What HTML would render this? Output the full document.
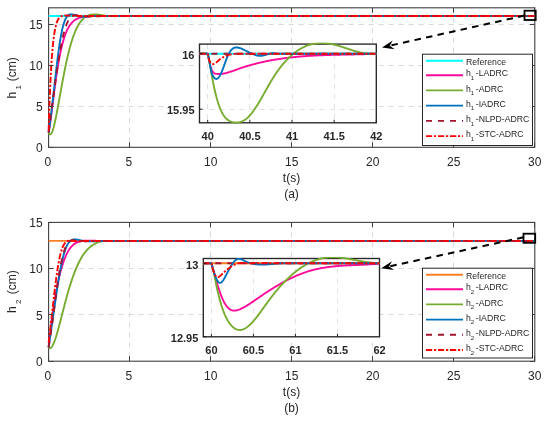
<!DOCTYPE html>
<html><head><meta charset="utf-8"><style>
html,body{margin:0;padding:0;background:#fff;}
svg{display:block;}
text{font-family:"Liberation Sans",Arial,sans-serif;fill:#262626;}
</style></head><body>
<svg width="550" height="422" viewBox="0 0 550 422">
<rect width="550" height="422" fill="#fff"/>
<line x1="129.5" y1="7.8" x2="129.5" y2="147.3" stroke="#d9d9d9" stroke-width="1" stroke-dasharray="5 5" />
<line x1="210.5" y1="7.8" x2="210.5" y2="147.3" stroke="#d9d9d9" stroke-width="1" stroke-dasharray="5 5" />
<line x1="291.5" y1="7.8" x2="291.5" y2="147.3" stroke="#d9d9d9" stroke-width="1" stroke-dasharray="5 5" />
<line x1="372.5" y1="7.8" x2="372.5" y2="147.3" stroke="#d9d9d9" stroke-width="1" stroke-dasharray="5 5" />
<line x1="453.5" y1="7.8" x2="453.5" y2="147.3" stroke="#d9d9d9" stroke-width="1" stroke-dasharray="5 5" />
<line x1="48.6" y1="106.5" x2="534.8" y2="106.5" stroke="#d9d9d9" stroke-width="1" stroke-dasharray="5 5" />
<line x1="48.6" y1="65.5" x2="534.8" y2="65.5" stroke="#d9d9d9" stroke-width="1" stroke-dasharray="5 5" />
<line x1="48.6" y1="24.5" x2="534.8" y2="24.5" stroke="#d9d9d9" stroke-width="1" stroke-dasharray="5 5" />
<rect x="48.6" y="7.8" width="486.19999999999993" height="139.5" fill="none" stroke="#404040" stroke-width="1.1"/>
<clipPath id="c1"><rect x="47.1" y="6.3" width="489.19999999999993" height="142.5"/></clipPath>
<path d="M48.60,16.01 L534.80,16.01" fill="none" stroke="#00ffff" stroke-width="1.9" stroke-linejoin="round" clip-path="url(#c1)"/>
<path d="M48.60,132.53 L48.76,131.70 L48.93,130.83 L49.09,129.91 L49.25,128.96 L49.42,127.97 L49.58,126.94 L49.74,125.88 L49.91,124.80 L50.07,123.68 L50.23,122.54 L50.39,121.38 L50.56,120.20 L50.72,119.00 L50.88,117.79 L51.05,116.56 L51.21,115.31 L51.37,114.06 L51.54,112.80 L51.70,111.52 L51.86,110.24 L52.03,108.96 L52.19,107.67 L52.35,106.38 L52.52,105.08 L52.68,103.79 L52.84,102.50 L53.01,101.20 L53.17,99.91 L53.33,98.62 L53.49,97.34 L53.66,96.06 L53.82,94.79 L53.98,93.52 L54.15,92.26 L54.31,91.01 L54.47,89.76 L54.64,88.53 L54.80,87.30 L54.96,86.08 L55.13,84.87 L55.29,83.67 L55.45,82.49 L55.62,81.31 L55.78,80.15 L55.94,78.99 L56.11,77.85 L56.27,76.72 L56.43,75.61 L56.59,74.50 L56.76,73.41 L56.92,72.33 L57.08,71.27 L57.25,70.22 L57.41,69.18 L57.57,68.16 L57.74,67.15 L57.90,66.15 L58.06,65.17 L58.23,64.20 L58.39,63.24 L58.55,62.30 L58.72,61.37 L58.88,60.46 L59.04,59.56 L59.21,58.67 L59.37,57.80 L59.53,56.94 L59.69,56.09 L59.86,55.26 L60.02,54.44 L60.18,53.63 L60.35,52.84 L60.51,52.06 L60.67,51.30 L60.84,50.54 L61.00,49.80 L61.16,49.08 L61.33,48.36 L61.49,47.66 L61.65,46.97 L61.82,46.29 L61.98,45.63 L62.14,44.98 L62.30,44.34 L62.47,43.71 L62.63,43.09 L62.79,42.48 L62.96,41.89 L63.12,41.31 L63.28,40.73 L63.45,40.17 L63.61,39.62 L63.77,39.08 L63.94,38.56 L64.10,38.04 L64.26,37.53 L64.43,37.03 L64.59,36.54 L64.75,36.07 L64.92,35.60 L65.08,35.14 L65.24,34.69 L65.40,34.25 L65.57,33.82 L65.73,33.39 L65.89,32.98 L66.06,32.58 L66.22,32.18 L66.38,31.79 L66.55,31.41 L66.71,31.04 L66.87,30.68 L67.04,30.32 L67.20,29.97 L67.36,29.63 L67.53,29.30 L67.69,28.97 L67.85,28.65 L68.02,28.34 L68.18,28.04 L68.34,27.74 L68.50,27.45 L68.67,27.16 L68.83,26.88 L68.99,26.61 L69.16,26.34 L69.32,26.08 L69.48,25.83 L69.65,25.58 L69.81,25.34 L69.97,25.10 L70.14,24.87 L70.30,24.64 L70.46,24.42 L70.63,24.21 L70.79,24.00 L70.95,23.79 L71.12,23.59 L71.28,23.39 L71.44,23.20 L71.60,23.01 L71.77,22.83 L71.93,22.65 L72.09,22.48 L72.26,22.31 L72.42,22.14 L72.58,21.98 L72.75,21.82 L72.91,21.67 L73.23,21.37 L73.90,20.81 L74.57,20.30 L75.23,19.84 L75.90,19.43 L76.56,19.06 L77.23,18.72 L77.90,18.42 L78.56,18.15 L79.23,17.91 L79.90,17.70 L80.56,17.50 L81.23,17.33 L81.89,17.18 L82.56,17.04 L83.23,16.92 L83.89,16.81 L84.56,16.71 L85.22,16.63 L85.89,16.55 L86.56,16.48 L87.22,16.42 L87.89,16.37 L88.55,16.32 L89.22,16.28 L89.89,16.25 L90.55,16.21 L91.22,16.19 L91.89,16.16 L92.55,16.14 L93.22,16.12 L93.88,16.10 L94.55,16.09 L95.22,16.08 L95.88,16.07 L96.55,16.06 L97.21,16.05 L97.88,16.04 L98.55,16.04 L99.21,16.03 L99.88,16.03 L100.54,16.02 L101.21,16.02 L101.88,16.02 L102.54,16.01 L103.21,16.01 L103.88,16.01 L104.54,16.01 L105.21,16.01 L105.87,16.01 L106.54,16.01 L107.21,16.01 L107.87,16.01 L108.54,16.01 L109.20,16.00 L109.87,16.00 L110.54,16.00 L111.20,16.00 L111.87,16.00 L112.53,16.00 L113.20,16.00 L113.87,16.00 L114.53,16.00 L115.20,16.00 L115.87,16.00 L116.53,16.00 L117.20,16.00 L117.86,16.00 L118.53,16.00 L119.20,16.00 L119.86,16.00 L120.53,16.00 L121.19,16.00 L121.86,16.00 L122.53,16.01 L123.19,16.01 L123.86,16.01 L124.52,16.01 L125.19,16.01 L125.86,16.01 L126.52,16.01 L127.19,16.01 L127.86,16.01 L128.52,16.01 L129.19,16.01 L129.85,16.01 L130.52,16.01 L131.19,16.01 L131.85,16.01 L132.52,16.01 L133.18,16.01 L133.85,16.01 L134.52,16.01 L135.18,16.01 L135.85,16.01 L136.51,16.01 L137.18,16.01 L137.85,16.01 L138.51,16.01 L139.18,16.01 L139.85,16.01 L140.51,16.01 L141.18,16.01 L141.84,16.01 L142.51,16.01 L143.18,16.01 L143.84,16.01 L144.51,16.01 L145.17,16.01 L145.84,16.01 L534.80,16.01" fill="none" stroke="#ff0a9a" stroke-width="1.9" stroke-linejoin="round" clip-path="url(#c1)"/>
<path d="M48.60,132.53 L48.76,132.92 L48.93,133.26 L49.09,133.56 L49.25,133.81 L49.42,134.01 L49.58,134.18 L49.74,134.29 L49.91,134.37 L50.07,134.41 L50.23,134.41 L50.39,134.37 L50.56,134.29 L50.72,134.18 L50.88,134.03 L51.05,133.85 L51.21,133.64 L51.37,133.40 L51.54,133.12 L51.70,132.82 L51.86,132.48 L52.03,132.12 L52.19,131.73 L52.35,131.32 L52.52,130.88 L52.68,130.41 L52.84,129.92 L53.01,129.41 L53.17,128.88 L53.33,128.33 L53.49,127.75 L53.66,127.16 L53.82,126.54 L53.98,125.91 L54.15,125.26 L54.31,124.60 L54.47,123.92 L54.64,123.22 L54.80,122.51 L54.96,121.78 L55.13,121.04 L55.29,120.29 L55.45,119.53 L55.62,118.75 L55.78,117.97 L55.94,117.17 L56.11,116.36 L56.27,115.54 L56.43,114.72 L56.59,113.88 L56.76,113.04 L56.92,112.19 L57.08,111.34 L57.25,110.47 L57.41,109.60 L57.57,108.73 L57.74,107.85 L57.90,106.97 L58.06,106.08 L58.23,105.19 L58.39,104.29 L58.55,103.39 L58.72,102.49 L58.88,101.59 L59.04,100.68 L59.21,99.77 L59.37,98.87 L59.53,97.96 L59.69,97.05 L59.86,96.14 L60.02,95.22 L60.18,94.31 L60.35,93.40 L60.51,92.50 L60.67,91.59 L60.84,90.68 L61.00,89.78 L61.16,88.87 L61.33,87.97 L61.49,87.07 L61.65,86.18 L61.82,85.28 L61.98,84.39 L62.14,83.50 L62.30,82.62 L62.47,81.74 L62.63,80.86 L62.79,79.99 L62.96,79.12 L63.12,78.26 L63.28,77.40 L63.45,76.54 L63.61,75.69 L63.77,74.84 L63.94,74.00 L64.10,73.17 L64.26,72.34 L64.43,71.51 L64.59,70.69 L64.75,69.88 L64.92,69.07 L65.08,68.26 L65.24,67.47 L65.40,66.68 L65.57,65.89 L65.73,65.11 L65.89,64.34 L66.06,63.57 L66.22,62.81 L66.38,62.06 L66.55,61.31 L66.71,60.57 L66.87,59.83 L67.04,59.11 L67.20,58.39 L67.36,57.67 L67.53,56.96 L67.69,56.26 L67.85,55.57 L68.02,54.88 L68.18,54.20 L68.34,53.53 L68.50,52.86 L68.67,52.20 L68.83,51.55 L68.99,50.90 L69.16,50.27 L69.32,49.63 L69.48,49.01 L69.65,48.39 L69.81,47.78 L69.97,47.18 L70.14,46.58 L70.30,45.99 L70.46,45.41 L70.63,44.83 L70.79,44.27 L70.95,43.70 L71.12,43.15 L71.28,42.60 L71.44,42.06 L71.60,41.53 L71.77,41.00 L71.93,40.48 L72.09,39.97 L72.26,39.46 L72.42,38.96 L72.58,38.47 L72.75,37.98 L72.91,37.50 L73.23,36.57 L73.90,34.73 L74.57,33.00 L75.23,31.37 L75.90,29.84 L76.56,28.41 L77.23,27.07 L77.90,25.83 L78.56,24.67 L79.23,23.59 L79.90,22.60 L80.56,21.68 L81.23,20.83 L81.89,20.05 L82.56,19.34 L83.23,18.68 L83.89,18.09 L84.56,17.55 L85.22,17.06 L85.89,16.62 L86.56,16.28 L87.22,15.95 L87.89,15.64 L88.55,15.37 L89.22,15.13 L89.89,14.94 L90.55,14.80 L91.22,14.71 L91.89,14.62 L92.55,14.55 L93.22,14.48 L93.88,14.43 L94.55,14.39 L95.22,14.37 L95.88,14.37 L96.55,14.40 L97.21,14.46 L97.88,14.55 L98.55,14.65 L99.21,14.75 L99.88,14.86 L100.54,14.95 L101.21,15.05 L101.88,15.17 L102.54,15.30 L103.21,15.43 L103.88,15.56 L104.54,15.67 L105.21,15.76 L105.87,15.83 L106.54,15.86 L107.21,15.89 L107.87,15.92 L108.54,15.94 L109.20,15.97 L109.87,15.98 L110.54,16.00 L111.20,16.00 L111.87,16.01 L112.53,16.01 L113.20,16.01 L113.87,16.01 L114.53,16.01 L115.20,16.01 L115.87,16.01 L116.53,16.01 L117.20,16.01 L117.86,16.01 L118.53,16.01 L119.20,16.01 L119.86,16.01 L120.53,16.01 L121.19,16.01 L121.86,16.01 L122.53,16.01 L123.19,16.01 L123.86,16.01 L124.52,16.01 L125.19,16.01 L125.86,16.01 L126.52,16.01 L127.19,16.01 L127.86,16.01 L128.52,16.01 L129.19,16.01 L129.85,16.01 L130.52,16.01 L131.19,16.01 L131.85,16.01 L132.52,16.01 L133.18,16.01 L133.85,16.01 L134.52,16.01 L135.18,16.01 L135.85,16.01 L136.51,16.01 L137.18,16.01 L137.85,16.01 L138.51,16.01 L139.18,16.01 L139.85,16.01 L140.51,16.01 L141.18,16.01 L141.84,16.01 L142.51,16.01 L143.18,16.01 L143.84,16.01 L144.51,16.01 L145.17,16.01 L145.84,16.01 L534.80,16.01" fill="none" stroke="#77ac30" stroke-width="1.9" stroke-linejoin="round" clip-path="url(#c1)"/>
<path d="M48.60,132.53 L48.76,131.38 L48.93,130.22 L49.09,129.07 L49.25,127.90 L49.42,126.74 L49.58,125.56 L49.74,124.38 L49.91,123.19 L50.07,121.98 L50.23,120.77 L50.39,119.54 L50.56,118.30 L50.72,117.05 L50.88,115.79 L51.05,114.51 L51.21,113.22 L51.37,111.91 L51.54,110.60 L51.70,109.27 L51.86,107.92 L52.03,106.57 L52.19,105.20 L52.35,103.82 L52.52,102.44 L52.68,101.04 L52.84,99.63 L53.01,98.22 L53.17,96.80 L53.33,95.37 L53.49,93.93 L53.66,92.49 L53.82,91.05 L53.98,89.60 L54.15,88.15 L54.31,86.70 L54.47,85.25 L54.64,83.79 L54.80,82.34 L54.96,80.89 L55.13,79.45 L55.29,78.01 L55.45,76.57 L55.62,75.14 L55.78,73.71 L55.94,72.29 L56.11,70.88 L56.27,69.48 L56.43,68.09 L56.59,66.71 L56.76,65.34 L56.92,63.98 L57.08,62.64 L57.25,61.31 L57.41,59.99 L57.57,58.69 L57.74,57.40 L57.90,56.13 L58.06,54.87 L58.23,53.64 L58.39,52.42 L58.55,51.21 L58.72,50.03 L58.88,48.86 L59.04,47.72 L59.21,46.59 L59.37,45.48 L59.53,44.40 L59.69,43.33 L59.86,42.28 L60.02,41.26 L60.18,40.26 L60.35,39.27 L60.51,38.31 L60.67,37.37 L60.84,36.45 L61.00,35.56 L61.16,34.68 L61.33,33.83 L61.49,33.00 L61.65,32.19 L61.82,31.40 L61.98,30.63 L62.14,29.89 L62.30,29.16 L62.47,28.46 L62.63,27.78 L62.79,27.12 L62.96,26.48 L63.12,25.86 L63.28,25.26 L63.45,24.68 L63.61,24.12 L63.77,23.58 L63.94,23.06 L64.10,22.56 L64.26,22.08 L64.43,21.61 L64.59,21.17 L64.75,20.74 L64.92,20.33 L65.08,19.94 L65.24,19.56 L65.40,19.20 L65.57,18.86 L65.73,18.53 L65.89,18.22 L66.06,17.92 L66.22,17.64 L66.38,17.37 L66.55,17.12 L66.71,16.88 L66.87,16.66 L67.04,16.44 L67.20,16.24 L67.36,16.05 L67.53,15.88 L67.69,15.71 L67.85,15.56 L68.02,15.42 L68.18,15.29 L68.34,15.17 L68.50,15.05 L68.67,14.95 L68.83,14.86 L68.99,14.77 L69.16,14.70 L69.32,14.63 L69.48,14.57 L69.65,14.52 L69.81,14.47 L69.97,14.43 L70.14,14.40 L70.30,14.37 L70.46,14.35 L70.63,14.34 L70.79,14.33 L70.95,14.32 L71.12,14.32 L71.28,14.33 L71.44,14.34 L71.60,14.35 L71.77,14.37 L71.93,14.39 L72.09,14.41 L72.26,14.44 L72.42,14.46 L72.58,14.50 L72.75,14.53 L72.91,14.57 L73.23,14.64 L73.90,14.82 L74.57,15.02 L75.23,15.22 L75.90,15.42 L76.56,15.62 L77.23,15.80 L77.90,15.97 L78.56,16.11 L79.23,16.24 L79.90,16.35 L80.56,16.44 L81.23,16.51 L81.89,16.56 L82.56,16.59 L83.23,16.61 L83.89,16.61 L84.56,16.60 L85.22,16.58 L85.89,16.55 L86.56,16.52 L87.22,16.48 L87.89,16.44 L88.55,16.39 L89.22,16.35 L89.89,16.30 L90.55,16.26 L91.22,16.22 L91.89,16.18 L92.55,16.14 L93.22,16.11 L93.88,16.08 L94.55,16.05 L95.22,16.03 L95.88,16.01 L96.55,16.00 L97.21,15.98 L97.88,15.97 L98.55,15.97 L99.21,15.96 L99.88,15.96 L100.54,15.96 L101.21,15.96 L101.88,15.96 L102.54,15.96 L103.21,15.97 L103.88,15.97 L104.54,15.97 L105.21,15.98 L105.87,15.98 L106.54,15.99 L107.21,15.99 L107.87,15.99 L108.54,16.00 L109.20,16.00 L109.87,16.00 L110.54,16.01 L111.20,16.01 L111.87,16.01 L112.53,16.01 L113.20,16.01 L113.87,16.01 L114.53,16.01 L115.20,16.01 L115.87,16.01 L116.53,16.01 L117.20,16.01 L117.86,16.01 L118.53,16.01 L119.20,16.01 L119.86,16.01 L120.53,16.01 L121.19,16.01 L121.86,16.01 L122.53,16.01 L123.19,16.01 L123.86,16.01 L124.52,16.01 L125.19,16.01 L125.86,16.01 L126.52,16.01 L127.19,16.01 L127.86,16.01 L128.52,16.01 L129.19,16.01 L129.85,16.01 L130.52,16.01 L131.19,16.01 L131.85,16.01 L132.52,16.01 L133.18,16.01 L133.85,16.01 L134.52,16.01 L135.18,16.01 L135.85,16.01 L136.51,16.01 L137.18,16.01 L137.85,16.01 L138.51,16.01 L139.18,16.01 L139.85,16.01 L140.51,16.01 L141.18,16.01 L141.84,16.01 L142.51,16.01 L143.18,16.01 L143.84,16.01 L144.51,16.01 L145.17,16.01 L145.84,16.01 L534.80,16.01" fill="none" stroke="#0072bd" stroke-width="1.9" stroke-linejoin="round" clip-path="url(#c1)"/>
<path d="M48.60,132.53 L48.76,131.20 L48.93,129.89 L49.09,128.58 L49.25,127.29 L49.42,126.01 L49.58,124.74 L49.74,123.47 L49.91,122.21 L50.07,120.96 L50.23,119.72 L50.39,118.48 L50.56,117.24 L50.72,116.01 L50.88,114.78 L51.05,113.55 L51.21,112.33 L51.37,111.11 L51.54,109.89 L51.70,108.67 L51.86,107.46 L52.03,106.24 L52.19,105.03 L52.35,103.82 L52.52,102.60 L52.68,101.39 L52.84,100.18 L53.01,98.98 L53.17,97.77 L53.33,96.56 L53.49,95.36 L53.66,94.16 L53.82,92.96 L53.98,91.76 L54.15,90.56 L54.31,89.37 L54.47,88.18 L54.64,86.99 L54.80,85.80 L54.96,84.62 L55.13,83.44 L55.29,82.27 L55.45,81.09 L55.62,79.93 L55.78,78.77 L55.94,77.61 L56.11,76.46 L56.27,75.31 L56.43,74.17 L56.59,73.04 L56.76,71.91 L56.92,70.79 L57.08,69.68 L57.25,68.58 L57.41,67.48 L57.57,66.39 L57.74,65.31 L57.90,64.24 L58.06,63.17 L58.23,62.12 L58.39,61.08 L58.55,60.04 L58.72,59.02 L58.88,58.00 L59.04,57.00 L59.21,56.00 L59.37,55.02 L59.53,54.05 L59.69,53.09 L59.86,52.14 L60.02,51.21 L60.18,50.28 L60.35,49.37 L60.51,48.47 L60.67,47.58 L60.84,46.71 L61.00,45.84 L61.16,45.00 L61.33,44.16 L61.49,43.33 L61.65,42.52 L61.82,41.73 L61.98,40.94 L62.14,40.17 L62.30,39.41 L62.47,38.67 L62.63,37.94 L62.79,37.22 L62.96,36.52 L63.12,35.83 L63.28,35.15 L63.45,34.49 L63.61,33.84 L63.77,33.21 L63.94,32.58 L64.10,31.97 L64.26,31.38 L64.43,30.80 L64.59,30.23 L64.75,29.67 L64.92,29.13 L65.08,28.60 L65.24,28.09 L65.40,27.58 L65.57,27.09 L65.73,26.61 L65.89,26.15 L66.06,25.69 L66.22,25.25 L66.38,24.83 L66.55,24.41 L66.71,24.00 L66.87,23.61 L67.04,23.23 L67.20,22.86 L67.36,22.50 L67.53,22.16 L67.69,21.82 L67.85,21.50 L68.02,21.18 L68.18,20.88 L68.34,20.58 L68.50,20.30 L68.67,20.03 L68.83,19.76 L68.99,19.51 L69.16,19.27 L69.32,19.03 L69.48,18.81 L69.65,18.59 L69.81,18.38 L69.97,18.18 L70.14,17.99 L70.30,17.81 L70.46,17.64 L70.63,17.47 L70.79,17.31 L70.95,17.16 L71.12,17.01 L71.28,16.88 L71.44,16.75 L71.60,16.62 L71.77,16.51 L71.93,16.40 L72.09,16.29 L72.26,16.20 L72.42,16.10 L72.58,16.02 L72.75,15.94 L72.91,15.86 L73.23,15.73 L73.90,15.51 L74.57,15.36 L75.23,15.27 L75.90,15.24 L76.56,15.24 L77.23,15.28 L77.90,15.34 L78.56,15.43 L79.23,15.53 L79.90,15.63 L80.56,15.75 L81.23,15.86 L81.89,15.97 L82.56,16.07 L83.23,16.17 L83.89,16.26 L84.56,16.34 L85.22,16.41 L85.89,16.47 L86.56,16.52 L87.22,16.55 L87.89,16.58 L88.55,16.60 L89.22,16.61 L89.89,16.61 L90.55,16.60 L91.22,16.59 L91.89,16.57 L92.55,16.54 L93.22,16.51 L93.88,16.48 L94.55,16.45 L95.22,16.42 L95.88,16.38 L96.55,16.34 L97.21,16.31 L97.88,16.27 L98.55,16.24 L99.21,16.21 L99.88,16.18 L100.54,16.15 L101.21,16.12 L101.88,16.10 L102.54,16.07 L103.21,16.05 L103.88,16.04 L104.54,16.02 L105.21,16.01 L105.87,16.00 L106.54,15.99 L107.21,15.98 L107.87,15.98 L108.54,15.97 L109.20,15.97 L109.87,15.97 L110.54,15.97 L111.20,15.97 L111.87,15.97 L112.53,15.97 L113.20,15.97 L113.87,15.97 L114.53,15.98 L115.20,15.98 L115.87,15.98 L116.53,15.99 L117.20,15.99 L117.86,15.99 L118.53,15.99 L119.20,16.00 L119.86,16.00 L120.53,16.00 L121.19,16.00 L121.86,16.01 L122.53,16.01 L123.19,16.01 L123.86,16.01 L124.52,16.01 L125.19,16.01 L125.86,16.01 L126.52,16.01 L127.19,16.01 L127.86,16.01 L128.52,16.01 L129.19,16.01 L129.85,16.01 L130.52,16.01 L131.19,16.01 L131.85,16.01 L132.52,16.01 L133.18,16.01 L133.85,16.01 L134.52,16.01 L135.18,16.01 L135.85,16.01 L136.51,16.01 L137.18,16.01 L137.85,16.01 L138.51,16.01 L139.18,16.01 L139.85,16.01 L140.51,16.01 L141.18,16.01 L141.84,16.01 L142.51,16.01 L143.18,16.01 L143.84,16.01 L144.51,16.01 L145.17,16.01 L145.84,16.01 L534.80,16.01" fill="none" stroke="#a2142f" stroke-width="1.9" stroke-dasharray="6 6" stroke-linejoin="round" clip-path="url(#c1)"/>
<path d="M48.60,130.89 L48.76,125.47 L48.93,120.29 L49.09,115.33 L49.25,110.58 L49.42,106.03 L49.58,101.68 L49.74,97.51 L49.91,93.53 L50.07,89.73 L50.23,86.09 L50.39,82.61 L50.56,79.28 L50.72,76.11 L50.88,73.07 L51.05,70.17 L51.21,67.41 L51.37,64.77 L51.54,62.25 L51.70,59.84 L51.86,57.55 L52.03,55.36 L52.19,53.28 L52.35,51.29 L52.52,49.39 L52.68,47.59 L52.84,45.87 L53.01,44.23 L53.17,42.67 L53.33,41.19 L53.49,39.78 L53.66,38.43 L53.82,37.16 L53.98,35.94 L54.15,34.79 L54.31,33.69 L54.47,32.65 L54.64,31.66 L54.80,30.72 L54.96,29.83 L55.13,28.98 L55.29,28.18 L55.45,27.42 L55.62,26.70 L55.78,26.02 L55.94,25.37 L56.11,24.76 L56.27,24.18 L56.43,23.63 L56.59,23.11 L56.76,22.62 L56.92,22.16 L57.08,21.72 L57.25,21.31 L57.41,20.92 L57.57,20.55 L57.74,20.20 L57.90,19.88 L58.06,19.57 L58.23,19.28 L58.39,19.01 L58.55,18.75 L58.72,18.51 L58.88,18.28 L59.04,18.07 L59.21,17.87 L59.37,17.69 L59.53,17.51 L59.69,17.35 L59.86,17.19 L60.02,17.05 L60.18,16.92 L60.35,16.79 L60.51,16.68 L60.67,16.57 L60.84,16.47 L61.00,16.38 L61.16,16.29 L61.33,16.21 L61.49,16.14 L61.65,16.07 L61.82,16.01 L61.98,15.95 L62.14,15.90 L62.30,15.85 L62.47,15.80 L62.63,15.76 L62.79,15.73 L62.96,15.69 L63.12,15.66 L63.28,15.64 L63.45,15.61 L63.61,15.59 L63.77,15.57 L63.94,15.56 L64.10,15.54 L64.26,15.53 L64.43,15.52 L64.59,15.51 L64.75,15.51 L64.92,15.50 L65.08,15.50 L65.24,15.49 L65.40,15.49 L65.57,15.49 L65.73,15.49 L65.89,15.49 L66.06,15.49 L66.22,15.50 L66.38,15.50 L66.55,15.51 L66.71,15.51 L66.87,15.52 L67.04,15.52 L67.20,15.53 L67.36,15.54 L67.53,15.54 L67.69,15.55 L67.85,15.56 L68.02,15.57 L68.18,15.57 L68.34,15.58 L68.50,15.59 L68.67,15.60 L68.83,15.61 L68.99,15.62 L69.16,15.63 L69.32,15.63 L69.48,15.64 L69.65,15.65 L69.81,15.66 L69.97,15.67 L70.14,15.68 L70.30,15.69 L70.46,15.69 L70.63,15.70 L70.79,15.71 L70.95,15.72 L71.12,15.73 L71.28,15.74 L71.44,15.74 L71.60,15.75 L71.77,15.76 L71.93,15.77 L72.09,15.77 L72.26,15.78 L72.42,15.79 L72.58,15.79 L72.75,15.80 L72.91,15.81 L73.23,15.82 L73.90,15.84 L74.57,15.86 L75.23,15.88 L75.90,15.90 L76.56,15.92 L77.23,15.93 L77.90,15.94 L78.56,15.95 L79.23,15.96 L79.90,15.97 L80.56,15.97 L81.23,15.98 L81.89,15.98 L82.56,15.99 L83.23,15.99 L83.89,15.99 L84.56,16.00 L85.22,16.00 L85.89,16.00 L86.56,16.00 L87.22,16.00 L87.89,16.00 L88.55,16.00 L89.22,16.00 L89.89,16.00 L90.55,16.00 L91.22,16.00 L91.89,16.01 L92.55,16.01 L93.22,16.01 L93.88,16.01 L94.55,16.01 L95.22,16.01 L95.88,16.01 L96.55,16.01 L97.21,16.01 L97.88,16.01 L98.55,16.01 L99.21,16.01 L99.88,16.01 L100.54,16.01 L101.21,16.01 L101.88,16.01 L102.54,16.01 L103.21,16.01 L103.88,16.01 L104.54,16.01 L105.21,16.01 L105.87,16.01 L106.54,16.01 L107.21,16.01 L107.87,16.01 L108.54,16.01 L109.20,16.01 L109.87,16.01 L110.54,16.01 L111.20,16.01 L111.87,16.01 L112.53,16.01 L113.20,16.01 L113.87,16.01 L114.53,16.01 L115.20,16.01 L115.87,16.01 L116.53,16.01 L117.20,16.01 L117.86,16.01 L118.53,16.01 L119.20,16.01 L119.86,16.01 L120.53,16.01 L121.19,16.01 L121.86,16.01 L122.53,16.01 L123.19,16.01 L123.86,16.01 L124.52,16.01 L125.19,16.01 L125.86,16.01 L126.52,16.01 L127.19,16.01 L127.86,16.01 L128.52,16.01 L129.19,16.01 L129.85,16.01 L130.52,16.01 L131.19,16.01 L131.85,16.01 L132.52,16.01 L133.18,16.01 L133.85,16.01 L134.52,16.01 L135.18,16.01 L135.85,16.01 L136.51,16.01 L137.18,16.01 L137.85,16.01 L138.51,16.01 L139.18,16.01 L139.85,16.01 L140.51,16.01 L141.18,16.01 L141.84,16.01 L142.51,16.01 L143.18,16.01 L143.84,16.01 L144.51,16.01 L145.17,16.01 L145.84,16.01 L534.80,16.01" fill="none" stroke="#ff0000" stroke-width="1.9" stroke-dasharray="6.2 1.8 2.2 1.8" stroke-linejoin="round" clip-path="url(#c1)"/>
<line x1="48.5" y1="147.3" x2="48.5" y2="142.3" stroke="#404040" stroke-width="1" />
<line x1="48.5" y1="7.8" x2="48.5" y2="12.8" stroke="#404040" stroke-width="1" />
<text x="47.9" y="165.8" font-size="12" text-anchor="middle" font-weight="normal" >0</text>
<line x1="129.5" y1="147.3" x2="129.5" y2="142.3" stroke="#404040" stroke-width="1" />
<line x1="129.5" y1="7.8" x2="129.5" y2="12.8" stroke="#404040" stroke-width="1" />
<text x="128.93333333333334" y="165.8" font-size="12" text-anchor="middle" font-weight="normal" >5</text>
<line x1="210.5" y1="147.3" x2="210.5" y2="142.3" stroke="#404040" stroke-width="1" />
<line x1="210.5" y1="7.8" x2="210.5" y2="12.8" stroke="#404040" stroke-width="1" />
<text x="210.66666666666663" y="165.8" font-size="12" text-anchor="middle" font-weight="normal" >10</text>
<line x1="291.5" y1="147.3" x2="291.5" y2="142.3" stroke="#404040" stroke-width="1" />
<line x1="291.5" y1="7.8" x2="291.5" y2="12.8" stroke="#404040" stroke-width="1" />
<text x="291.7" y="165.8" font-size="12" text-anchor="middle" font-weight="normal" >15</text>
<line x1="372.5" y1="147.3" x2="372.5" y2="142.3" stroke="#404040" stroke-width="1" />
<line x1="372.5" y1="7.8" x2="372.5" y2="12.8" stroke="#404040" stroke-width="1" />
<text x="372.7333333333333" y="165.8" font-size="12" text-anchor="middle" font-weight="normal" >20</text>
<line x1="453.5" y1="147.3" x2="453.5" y2="142.3" stroke="#404040" stroke-width="1" />
<line x1="453.5" y1="7.8" x2="453.5" y2="12.8" stroke="#404040" stroke-width="1" />
<text x="453.76666666666665" y="165.8" font-size="12" text-anchor="middle" font-weight="normal" >25</text>
<line x1="534.5" y1="147.3" x2="534.5" y2="142.3" stroke="#404040" stroke-width="1" />
<line x1="534.5" y1="7.8" x2="534.5" y2="12.8" stroke="#404040" stroke-width="1" />
<text x="534.8" y="165.8" font-size="12" text-anchor="middle" font-weight="normal" >30</text>
<line x1="48.6" y1="147.5" x2="53.6" y2="147.5" stroke="#404040" stroke-width="1" />
<line x1="534.8" y1="147.5" x2="529.8" y2="147.5" stroke="#404040" stroke-width="1" />
<text x="42.6" y="152.10000000000002" font-size="12" text-anchor="end" font-weight="normal" >0</text>
<line x1="48.6" y1="106.5" x2="53.6" y2="106.5" stroke="#404040" stroke-width="1" />
<line x1="534.8" y1="106.5" x2="529.8" y2="106.5" stroke="#404040" stroke-width="1" />
<text x="42.6" y="111.07058823529412" font-size="12" text-anchor="end" font-weight="normal" >5</text>
<line x1="48.6" y1="65.5" x2="53.6" y2="65.5" stroke="#404040" stroke-width="1" />
<line x1="534.8" y1="65.5" x2="529.8" y2="65.5" stroke="#404040" stroke-width="1" />
<text x="42.6" y="70.04117647058824" font-size="12" text-anchor="end" font-weight="normal" >10</text>
<line x1="48.6" y1="24.5" x2="53.6" y2="24.5" stroke="#404040" stroke-width="1" />
<line x1="534.8" y1="24.5" x2="529.8" y2="24.5" stroke="#404040" stroke-width="1" />
<text x="42.6" y="29.01176470588236" font-size="12" text-anchor="end" font-weight="normal" >15</text>
<text x="291.5" y="181.70000000000002" font-size="12" text-anchor="middle" font-weight="normal" >t(s)</text>
<text x="291.5" y="198.0" font-size="12" text-anchor="middle" font-weight="normal" >(a)</text>
<text transform="translate(16,98.4) rotate(-90)" font-size="12" text-anchor="start">h</text>
<text transform="translate(21.3,89.5) rotate(-90)" font-size="8" text-anchor="start">1</text>
<text transform="translate(16,81.30000000000001) rotate(-90)" font-size="12" text-anchor="start">(cm)</text>
<line x1="129.5" y1="222.4" x2="129.5" y2="361.2" stroke="#d9d9d9" stroke-width="1" stroke-dasharray="5 5" />
<line x1="210.5" y1="222.4" x2="210.5" y2="361.2" stroke="#d9d9d9" stroke-width="1" stroke-dasharray="5 5" />
<line x1="291.5" y1="222.4" x2="291.5" y2="361.2" stroke="#d9d9d9" stroke-width="1" stroke-dasharray="5 5" />
<line x1="372.5" y1="222.4" x2="372.5" y2="361.2" stroke="#d9d9d9" stroke-width="1" stroke-dasharray="5 5" />
<line x1="453.5" y1="222.4" x2="453.5" y2="361.2" stroke="#d9d9d9" stroke-width="1" stroke-dasharray="5 5" />
<line x1="48.6" y1="314.5" x2="534.8" y2="314.5" stroke="#d9d9d9" stroke-width="1" stroke-dasharray="5 5" />
<line x1="48.6" y1="268.5" x2="534.8" y2="268.5" stroke="#d9d9d9" stroke-width="1" stroke-dasharray="5 5" />
<rect x="48.6" y="222.4" width="486.19999999999993" height="138.79999999999998" fill="none" stroke="#404040" stroke-width="1.1"/>
<clipPath id="c2"><rect x="47.1" y="220.9" width="489.19999999999993" height="141.79999999999998"/></clipPath>
<path d="M48.60,240.91 L534.80,240.91" fill="none" stroke="#ff7f27" stroke-width="1.9" stroke-linejoin="round" clip-path="url(#c2)"/>
<path d="M48.60,347.32 L48.76,345.76 L48.93,344.23 L49.09,342.71 L49.25,341.21 L49.42,339.73 L49.58,338.27 L49.74,336.83 L49.91,335.40 L50.07,333.99 L50.23,332.60 L50.39,331.22 L50.56,329.86 L50.72,328.52 L50.88,327.19 L51.05,325.88 L51.21,324.59 L51.37,323.31 L51.54,322.04 L51.70,320.79 L51.86,319.55 L52.03,318.33 L52.19,317.13 L52.35,315.93 L52.52,314.75 L52.68,313.59 L52.84,312.44 L53.01,311.30 L53.17,310.18 L53.33,309.07 L53.49,307.97 L53.66,306.89 L53.82,305.82 L53.98,304.76 L54.15,303.71 L54.31,302.68 L54.47,301.66 L54.64,300.65 L54.80,299.65 L54.96,298.67 L55.13,297.70 L55.29,296.74 L55.45,295.79 L55.62,294.85 L55.78,293.93 L55.94,293.01 L56.11,292.11 L56.27,291.22 L56.43,290.34 L56.59,289.47 L56.76,288.61 L56.92,287.77 L57.08,286.93 L57.25,286.11 L57.41,285.29 L57.57,284.49 L57.74,283.70 L57.90,282.91 L58.06,282.14 L58.23,281.38 L58.39,280.63 L58.55,279.88 L58.72,279.15 L58.88,278.43 L59.04,277.72 L59.21,277.01 L59.37,276.32 L59.53,275.64 L59.69,274.96 L59.86,274.30 L60.02,273.64 L60.18,273.00 L60.35,272.36 L60.51,271.73 L60.67,271.12 L60.84,270.51 L61.00,269.91 L61.16,269.32 L61.33,268.73 L61.49,268.16 L61.65,267.59 L61.82,267.04 L61.98,266.49 L62.14,265.95 L62.30,265.42 L62.47,264.89 L62.63,264.38 L62.79,263.87 L62.96,263.37 L63.12,262.88 L63.28,262.39 L63.45,261.92 L63.61,261.45 L63.77,260.99 L63.94,260.54 L64.10,260.09 L64.26,259.65 L64.43,259.22 L64.59,258.80 L64.75,258.38 L64.92,257.97 L65.08,257.57 L65.24,257.18 L65.40,256.79 L65.57,256.41 L65.73,256.03 L65.89,255.66 L66.06,255.30 L66.22,254.95 L66.38,254.60 L66.55,254.26 L66.71,253.92 L66.87,253.59 L67.04,253.27 L67.20,252.95 L67.36,252.64 L67.53,252.33 L67.69,252.03 L67.85,251.74 L68.02,251.45 L68.18,251.17 L68.34,250.89 L68.50,250.62 L68.67,250.35 L68.83,250.09 L68.99,249.83 L69.16,249.58 L69.32,249.34 L69.48,249.10 L69.65,248.86 L69.81,248.63 L69.97,248.41 L70.14,248.18 L70.30,247.97 L70.46,247.76 L70.63,247.55 L70.79,247.35 L70.95,247.15 L71.12,246.96 L71.28,246.77 L71.44,246.58 L71.60,246.40 L71.77,246.23 L71.93,246.05 L72.09,245.88 L72.26,245.72 L72.42,245.56 L72.58,245.40 L72.75,245.25 L72.91,245.10 L73.23,244.81 L73.90,244.27 L74.57,243.78 L75.23,243.34 L75.90,242.94 L76.56,242.59 L77.23,242.28 L77.90,242.01 L78.56,241.77 L79.23,241.56 L79.90,241.38 L80.56,241.23 L81.23,241.10 L81.89,240.99 L82.56,240.90 L83.23,240.82 L83.89,240.76 L84.56,240.71 L85.22,240.68 L85.89,240.66 L86.56,240.64 L87.22,240.63 L87.89,240.63 L88.55,240.63 L89.22,240.64 L89.89,240.65 L90.55,240.67 L91.22,240.69 L91.89,240.70 L92.55,240.72 L93.22,240.75 L93.88,240.77 L94.55,240.79 L95.22,240.81 L95.88,240.83 L96.55,240.85 L97.21,240.87 L97.88,240.89 L98.55,240.90 L99.21,240.92 L99.88,240.93 L100.54,240.95 L101.21,240.96 L101.88,240.97 L102.54,240.98 L103.21,240.98 L103.88,240.99 L104.54,241.00 L105.21,241.00 L105.87,241.01 L106.54,241.01 L107.21,241.01 L107.87,241.01 L108.54,241.01 L109.20,241.01 L109.87,241.01 L110.54,241.01 L111.20,241.01 L111.87,241.00 L112.53,241.00 L113.20,241.00 L113.87,240.99 L114.53,240.99 L115.20,240.99 L115.87,240.98 L116.53,240.98 L117.20,240.97 L117.86,240.97 L118.53,240.97 L119.20,240.96 L119.86,240.96 L120.53,240.95 L121.19,240.95 L121.86,240.95 L122.53,240.94 L123.19,240.94 L123.86,240.94 L124.52,240.93 L125.19,240.93 L125.86,240.93 L126.52,240.93 L127.19,240.92 L127.86,240.92 L128.52,240.92 L129.19,240.92 L129.85,240.92 L130.52,240.91 L131.19,240.91 L131.85,240.91 L132.52,240.91 L133.18,240.91 L133.85,240.91 L134.52,240.91 L135.18,240.91 L135.85,240.91 L136.51,240.91 L137.18,240.91 L137.85,240.90 L138.51,240.90 L139.18,240.90 L139.85,240.90 L140.51,240.90 L141.18,240.90 L141.84,240.90 L142.51,240.90 L143.18,240.90 L143.84,240.90 L144.51,240.90 L145.17,240.90 L145.84,240.90 L534.80,240.91" fill="none" stroke="#ff0a9a" stroke-width="1.9" stroke-linejoin="round" clip-path="url(#c2)"/>
<path d="M48.60,347.32 L48.76,347.51 L48.93,347.67 L49.09,347.81 L49.25,347.92 L49.42,348.01 L49.58,348.08 L49.74,348.12 L49.91,348.13 L50.07,348.13 L50.23,348.10 L50.39,348.06 L50.56,347.99 L50.72,347.90 L50.88,347.79 L51.05,347.66 L51.21,347.51 L51.37,347.35 L51.54,347.17 L51.70,346.97 L51.86,346.75 L52.03,346.51 L52.19,346.27 L52.35,346.00 L52.52,345.72 L52.68,345.42 L52.84,345.11 L53.01,344.79 L53.17,344.45 L53.33,344.10 L53.49,343.74 L53.66,343.37 L53.82,342.98 L53.98,342.58 L54.15,342.17 L54.31,341.75 L54.47,341.32 L54.64,340.87 L54.80,340.42 L54.96,339.96 L55.13,339.49 L55.29,339.01 L55.45,338.52 L55.62,338.03 L55.78,337.52 L55.94,337.01 L56.11,336.49 L56.27,335.96 L56.43,335.43 L56.59,334.89 L56.76,334.34 L56.92,333.79 L57.08,333.23 L57.25,332.67 L57.41,332.10 L57.57,331.52 L57.74,330.94 L57.90,330.36 L58.06,329.77 L58.23,329.18 L58.39,328.58 L58.55,327.98 L58.72,327.38 L58.88,326.78 L59.04,326.17 L59.21,325.55 L59.37,324.94 L59.53,324.32 L59.69,323.70 L59.86,323.08 L60.02,322.45 L60.18,321.83 L60.35,321.20 L60.51,320.57 L60.67,319.94 L60.84,319.31 L61.00,318.68 L61.16,318.04 L61.33,317.41 L61.49,316.78 L61.65,316.14 L61.82,315.51 L61.98,314.87 L62.14,314.24 L62.30,313.60 L62.47,312.97 L62.63,312.34 L62.79,311.70 L62.96,311.07 L63.12,310.44 L63.28,309.81 L63.45,309.18 L63.61,308.55 L63.77,307.92 L63.94,307.29 L64.10,306.67 L64.26,306.04 L64.43,305.42 L64.59,304.80 L64.75,304.18 L64.92,303.57 L65.08,302.95 L65.24,302.34 L65.40,301.73 L65.57,301.12 L65.73,300.51 L65.89,299.91 L66.06,299.31 L66.22,298.71 L66.38,298.11 L66.55,297.52 L66.71,296.92 L66.87,296.33 L67.04,295.75 L67.20,295.16 L67.36,294.58 L67.53,294.01 L67.69,293.43 L67.85,292.86 L68.02,292.29 L68.18,291.73 L68.34,291.16 L68.50,290.60 L68.67,290.05 L68.83,289.49 L68.99,288.94 L69.16,288.40 L69.32,287.86 L69.48,287.32 L69.65,286.78 L69.81,286.25 L69.97,285.72 L70.14,285.19 L70.30,284.67 L70.46,284.15 L70.63,283.64 L70.79,283.12 L70.95,282.62 L71.12,282.11 L71.28,281.61 L71.44,281.11 L71.60,280.62 L71.77,280.13 L71.93,279.64 L72.09,279.16 L72.26,278.68 L72.42,278.21 L72.58,277.74 L72.75,277.27 L72.91,276.80 L73.23,275.89 L73.90,274.07 L74.57,272.31 L75.23,270.61 L75.90,268.97 L76.56,267.39 L77.23,265.88 L77.90,264.43 L78.56,263.03 L79.23,261.70 L79.90,260.42 L80.56,259.19 L81.23,258.03 L81.89,256.91 L82.56,255.85 L83.23,254.84 L83.89,253.88 L84.56,252.96 L85.22,252.10 L85.89,251.27 L86.56,250.49 L87.22,249.76 L87.89,249.06 L88.55,248.40 L89.22,247.78 L89.89,247.19 L90.55,246.64 L91.22,246.13 L91.89,245.64 L92.55,245.18 L93.22,244.76 L93.88,244.36 L94.55,243.98 L95.22,243.63 L95.88,243.31 L96.55,242.97 L97.21,242.65 L97.88,242.36 L98.55,242.11 L99.21,241.91 L99.88,241.73 L100.54,241.57 L101.21,241.43 L101.88,241.31 L102.54,241.22 L103.21,241.16 L103.88,241.11 L104.54,241.06 L105.21,241.02 L105.87,240.98 L106.54,240.95 L107.21,240.93 L107.87,240.91 L108.54,240.91 L109.20,240.91 L109.87,240.91 L110.54,240.91 L111.20,240.91 L111.87,240.91 L112.53,240.91 L113.20,240.91 L113.87,240.91 L114.53,240.91 L115.20,240.91 L115.87,240.91 L116.53,240.91 L117.20,240.91 L117.86,240.91 L118.53,240.91 L119.20,240.91 L119.86,240.91 L120.53,240.91 L121.19,240.91 L121.86,240.91 L122.53,240.91 L123.19,240.91 L123.86,240.91 L124.52,240.91 L125.19,240.91 L125.86,240.91 L126.52,240.91 L127.19,240.91 L127.86,240.91 L128.52,240.91 L129.19,240.91 L129.85,240.91 L130.52,240.91 L131.19,240.91 L131.85,240.91 L132.52,240.91 L133.18,240.91 L133.85,240.91 L134.52,240.91 L135.18,240.91 L135.85,240.91 L136.51,240.91 L137.18,240.91 L137.85,240.91 L138.51,240.91 L139.18,240.91 L139.85,240.91 L140.51,240.91 L141.18,240.91 L141.84,240.91 L142.51,240.91 L143.18,240.91 L143.84,240.91 L144.51,240.91 L145.17,240.91 L145.84,240.91 L534.80,240.91" fill="none" stroke="#77ac30" stroke-width="1.9" stroke-linejoin="round" clip-path="url(#c2)"/>
<path d="M48.60,347.32 L48.76,346.16 L48.93,345.01 L49.09,343.88 L49.25,342.75 L49.42,341.63 L49.58,340.51 L49.74,339.40 L49.91,338.29 L50.07,337.18 L50.23,336.08 L50.39,334.98 L50.56,333.87 L50.72,332.77 L50.88,331.67 L51.05,330.57 L51.21,329.46 L51.37,328.36 L51.54,327.25 L51.70,326.14 L51.86,325.03 L52.03,323.92 L52.19,322.80 L52.35,321.69 L52.52,320.57 L52.68,319.45 L52.84,318.32 L53.01,317.20 L53.17,316.07 L53.33,314.94 L53.49,313.81 L53.66,312.68 L53.82,311.55 L53.98,310.42 L54.15,309.28 L54.31,308.15 L54.47,307.02 L54.64,305.89 L54.80,304.76 L54.96,303.63 L55.13,302.51 L55.29,301.38 L55.45,300.26 L55.62,299.14 L55.78,298.03 L55.94,296.91 L56.11,295.81 L56.27,294.71 L56.43,293.61 L56.59,292.52 L56.76,291.43 L56.92,290.35 L57.08,289.28 L57.25,288.21 L57.41,287.15 L57.57,286.10 L57.74,285.06 L57.90,284.02 L58.06,283.00 L58.23,281.98 L58.39,280.97 L58.55,279.97 L58.72,278.98 L58.88,278.01 L59.04,277.04 L59.21,276.08 L59.37,275.14 L59.53,274.20 L59.69,273.28 L59.86,272.37 L60.02,271.47 L60.18,270.58 L60.35,269.71 L60.51,268.85 L60.67,268.00 L60.84,267.16 L61.00,266.34 L61.16,265.53 L61.33,264.74 L61.49,263.95 L61.65,263.18 L61.82,262.43 L61.98,261.69 L62.14,260.96 L62.30,260.24 L62.47,259.54 L62.63,258.86 L62.79,258.19 L62.96,257.53 L63.12,256.88 L63.28,256.25 L63.45,255.63 L63.61,255.03 L63.77,254.44 L63.94,253.87 L64.10,253.30 L64.26,252.76 L64.43,252.22 L64.59,251.70 L64.75,251.19 L64.92,250.70 L65.08,250.22 L65.24,249.75 L65.40,249.30 L65.57,248.86 L65.73,248.43 L65.89,248.01 L66.06,247.61 L66.22,247.21 L66.38,246.83 L66.55,246.47 L66.71,246.11 L66.87,245.77 L67.04,245.44 L67.20,245.12 L67.36,244.81 L67.53,244.51 L67.69,244.22 L67.85,243.94 L68.02,243.68 L68.18,243.42 L68.34,243.17 L68.50,242.94 L68.67,242.71 L68.83,242.50 L68.99,242.29 L69.16,242.09 L69.32,241.90 L69.48,241.72 L69.65,241.55 L69.81,241.38 L69.97,241.23 L70.14,241.08 L70.30,240.94 L70.46,240.81 L70.63,240.68 L70.79,240.57 L70.95,240.45 L71.12,240.35 L71.28,240.25 L71.44,240.16 L71.60,240.08 L71.77,240.00 L71.93,239.93 L72.09,239.86 L72.26,239.80 L72.42,239.74 L72.58,239.69 L72.75,239.64 L72.91,239.60 L73.23,239.53 L73.90,239.44 L74.57,239.40 L75.23,239.42 L75.90,239.48 L76.56,239.56 L77.23,239.68 L77.90,239.80 L78.56,239.94 L79.23,240.09 L79.90,240.24 L80.56,240.38 L81.23,240.52 L81.89,240.66 L82.56,240.78 L83.23,240.89 L83.89,240.99 L84.56,241.08 L85.22,241.15 L85.89,241.22 L86.56,241.27 L87.22,241.31 L87.89,241.34 L88.55,241.35 L89.22,241.36 L89.89,241.37 L90.55,241.36 L91.22,241.35 L91.89,241.33 L92.55,241.31 L93.22,241.29 L93.88,241.26 L94.55,241.23 L95.22,241.20 L95.88,241.17 L96.55,241.14 L97.21,241.11 L97.88,241.09 L98.55,241.06 L99.21,241.03 L99.88,241.01 L100.54,240.99 L101.21,240.97 L101.88,240.95 L102.54,240.93 L103.21,240.92 L103.88,240.91 L104.54,240.90 L105.21,240.89 L105.87,240.88 L106.54,240.88 L107.21,240.87 L107.87,240.87 L108.54,240.87 L109.20,240.87 L109.87,240.87 L110.54,240.87 L111.20,240.87 L111.87,240.87 L112.53,240.88 L113.20,240.88 L113.87,240.88 L114.53,240.88 L115.20,240.89 L115.87,240.89 L116.53,240.89 L117.20,240.89 L117.86,240.90 L118.53,240.90 L119.20,240.90 L119.86,240.90 L120.53,240.90 L121.19,240.91 L121.86,240.91 L122.53,240.91 L123.19,240.91 L123.86,240.91 L124.52,240.91 L125.19,240.91 L125.86,240.91 L126.52,240.91 L127.19,240.91 L127.86,240.91 L128.52,240.91 L129.19,240.91 L129.85,240.91 L130.52,240.91 L131.19,240.91 L131.85,240.91 L132.52,240.91 L133.18,240.91 L133.85,240.91 L134.52,240.91 L135.18,240.91 L135.85,240.91 L136.51,240.91 L137.18,240.91 L137.85,240.91 L138.51,240.91 L139.18,240.91 L139.85,240.91 L140.51,240.91 L141.18,240.91 L141.84,240.91 L142.51,240.91 L143.18,240.91 L143.84,240.91 L144.51,240.91 L145.17,240.91 L145.84,240.91 L534.80,240.91" fill="none" stroke="#0072bd" stroke-width="1.9" stroke-linejoin="round" clip-path="url(#c2)"/>
<path d="M48.60,347.32 L48.76,346.35 L48.93,345.37 L49.09,344.38 L49.25,343.38 L49.42,342.37 L49.58,341.36 L49.74,340.33 L49.91,339.29 L50.07,338.24 L50.23,337.17 L50.39,336.10 L50.56,335.01 L50.72,333.92 L50.88,332.81 L51.05,331.69 L51.21,330.56 L51.37,329.41 L51.54,328.26 L51.70,327.10 L51.86,325.93 L52.03,324.75 L52.19,323.56 L52.35,322.37 L52.52,321.16 L52.68,319.95 L52.84,318.73 L53.01,317.51 L53.17,316.28 L53.33,315.05 L53.49,313.82 L53.66,312.58 L53.82,311.34 L53.98,310.09 L54.15,308.85 L54.31,307.61 L54.47,306.36 L54.64,305.12 L54.80,303.88 L54.96,302.64 L55.13,301.41 L55.29,300.18 L55.45,298.95 L55.62,297.73 L55.78,296.51 L55.94,295.30 L56.11,294.10 L56.27,292.91 L56.43,291.72 L56.59,290.54 L56.76,289.37 L56.92,288.21 L57.08,287.06 L57.25,285.92 L57.41,284.79 L57.57,283.67 L57.74,282.56 L57.90,281.47 L58.06,280.39 L58.23,279.32 L58.39,278.27 L58.55,277.23 L58.72,276.20 L58.88,275.19 L59.04,274.19 L59.21,273.20 L59.37,272.23 L59.53,271.28 L59.69,270.34 L59.86,269.42 L60.02,268.52 L60.18,267.62 L60.35,266.75 L60.51,265.89 L60.67,265.05 L60.84,264.22 L61.00,263.41 L61.16,262.62 L61.33,261.85 L61.49,261.09 L61.65,260.34 L61.82,259.61 L61.98,258.90 L62.14,258.21 L62.30,257.53 L62.47,256.87 L62.63,256.23 L62.79,255.60 L62.96,254.98 L63.12,254.39 L63.28,253.80 L63.45,253.24 L63.61,252.69 L63.77,252.15 L63.94,251.63 L64.10,251.13 L64.26,250.64 L64.43,250.16 L64.59,249.70 L64.75,249.26 L64.92,248.83 L65.08,248.41 L65.24,248.00 L65.40,247.61 L65.57,247.23 L65.73,246.87 L65.89,246.52 L66.06,246.18 L66.22,245.85 L66.38,245.54 L66.55,245.24 L66.71,244.94 L66.87,244.66 L67.04,244.40 L67.20,244.14 L67.36,243.89 L67.53,243.66 L67.69,243.43 L67.85,243.21 L68.02,243.01 L68.18,242.81 L68.34,242.62 L68.50,242.44 L68.67,242.27 L68.83,242.11 L68.99,241.96 L69.16,241.81 L69.32,241.68 L69.48,241.55 L69.65,241.42 L69.81,241.31 L69.97,241.20 L70.14,241.10 L70.30,241.00 L70.46,240.91 L70.63,240.83 L70.79,240.75 L70.95,240.68 L71.12,240.61 L71.28,240.55 L71.44,240.50 L71.60,240.44 L71.77,240.40 L71.93,240.35 L72.09,240.32 L72.26,240.28 L72.42,240.25 L72.58,240.23 L72.75,240.20 L72.91,240.18 L73.23,240.15 L73.90,240.13 L74.57,240.14 L75.23,240.18 L75.90,240.24 L76.56,240.32 L77.23,240.41 L77.90,240.51 L78.56,240.60 L79.23,240.70 L79.90,240.79 L80.56,240.87 L81.23,240.95 L81.89,241.02 L82.56,241.07 L83.23,241.12 L83.89,241.16 L84.56,241.20 L85.22,241.22 L85.89,241.23 L86.56,241.24 L87.22,241.24 L87.89,241.24 L88.55,241.23 L89.22,241.22 L89.89,241.21 L90.55,241.19 L91.22,241.17 L91.89,241.15 L92.55,241.13 L93.22,241.10 L93.88,241.08 L94.55,241.06 L95.22,241.04 L95.88,241.02 L96.55,241.00 L97.21,240.99 L97.88,240.97 L98.55,240.96 L99.21,240.95 L99.88,240.94 L100.54,240.93 L101.21,240.92 L101.88,240.91 L102.54,240.91 L103.21,240.90 L103.88,240.90 L104.54,240.90 L105.21,240.89 L105.87,240.89 L106.54,240.89 L107.21,240.89 L107.87,240.89 L108.54,240.89 L109.20,240.89 L109.87,240.89 L110.54,240.90 L111.20,240.90 L111.87,240.90 L112.53,240.90 L113.20,240.90 L113.87,240.90 L114.53,240.90 L115.20,240.90 L115.87,240.90 L116.53,240.91 L117.20,240.91 L117.86,240.91 L118.53,240.91 L119.20,240.91 L119.86,240.91 L120.53,240.91 L121.19,240.91 L121.86,240.91 L122.53,240.91 L123.19,240.91 L123.86,240.91 L124.52,240.91 L125.19,240.91 L125.86,240.91 L126.52,240.91 L127.19,240.91 L127.86,240.91 L128.52,240.91 L129.19,240.91 L129.85,240.91 L130.52,240.91 L131.19,240.91 L131.85,240.91 L132.52,240.91 L133.18,240.91 L133.85,240.91 L134.52,240.91 L135.18,240.91 L135.85,240.91 L136.51,240.91 L137.18,240.91 L137.85,240.91 L138.51,240.91 L139.18,240.91 L139.85,240.91 L140.51,240.91 L141.18,240.91 L141.84,240.91 L142.51,240.91 L143.18,240.91 L143.84,240.91 L144.51,240.91 L145.17,240.91 L145.84,240.91 L534.80,240.91" fill="none" stroke="#a2142f" stroke-width="1.9" stroke-dasharray="6 6" stroke-linejoin="round" clip-path="url(#c2)"/>
<path d="M48.60,342.69 L48.76,341.36 L48.93,340.03 L49.09,338.69 L49.25,337.35 L49.42,336.00 L49.58,334.65 L49.74,333.29 L49.91,331.92 L50.07,330.54 L50.23,329.16 L50.39,327.76 L50.56,326.36 L50.72,324.95 L50.88,323.54 L51.05,322.12 L51.21,320.69 L51.37,319.26 L51.54,317.82 L51.70,316.38 L51.86,314.94 L52.03,313.49 L52.19,312.04 L52.35,310.59 L52.52,309.14 L52.68,307.69 L52.84,306.25 L53.01,304.81 L53.17,303.37 L53.33,301.93 L53.49,300.50 L53.66,299.08 L53.82,297.67 L53.98,296.26 L54.15,294.87 L54.31,293.48 L54.47,292.10 L54.64,290.74 L54.80,289.39 L54.96,288.05 L55.13,286.73 L55.29,285.42 L55.45,284.13 L55.62,282.85 L55.78,281.59 L55.94,280.34 L56.11,279.12 L56.27,277.91 L56.43,276.72 L56.59,275.55 L56.76,274.41 L56.92,273.28 L57.08,272.17 L57.25,271.08 L57.41,270.01 L57.57,268.97 L57.74,267.94 L57.90,266.94 L58.06,265.96 L58.23,265.00 L58.39,264.06 L58.55,263.15 L58.72,262.26 L58.88,261.39 L59.04,260.54 L59.21,259.71 L59.37,258.91 L59.53,258.13 L59.69,257.37 L59.86,256.63 L60.02,255.91 L60.18,255.22 L60.35,254.54 L60.51,253.89 L60.67,253.26 L60.84,252.64 L61.00,252.05 L61.16,251.48 L61.33,250.93 L61.49,250.40 L61.65,249.88 L61.82,249.39 L61.98,248.91 L62.14,248.45 L62.30,248.01 L62.47,247.59 L62.63,247.18 L62.79,246.79 L62.96,246.42 L63.12,246.06 L63.28,245.72 L63.45,245.39 L63.61,245.08 L63.77,244.78 L63.94,244.50 L64.10,244.23 L64.26,243.97 L64.43,243.73 L64.59,243.50 L64.75,243.28 L64.92,243.07 L65.08,242.88 L65.24,242.69 L65.40,242.52 L65.57,242.35 L65.73,242.20 L65.89,242.05 L66.06,241.92 L66.22,241.79 L66.38,241.67 L66.55,241.56 L66.71,241.46 L66.87,241.36 L67.04,241.28 L67.20,241.19 L67.36,241.12 L67.53,241.05 L67.69,240.99 L67.85,240.93 L68.02,240.88 L68.18,240.83 L68.34,240.79 L68.50,240.76 L68.67,240.72 L68.83,240.70 L68.99,240.67 L69.16,240.65 L69.32,240.63 L69.48,240.62 L69.65,240.61 L69.81,240.60 L69.97,240.59 L70.14,240.59 L70.30,240.59 L70.46,240.59 L70.63,240.59 L70.79,240.60 L70.95,240.61 L71.12,240.61 L71.28,240.62 L71.44,240.63 L71.60,240.64 L71.77,240.66 L71.93,240.67 L72.09,240.69 L72.26,240.70 L72.42,240.72 L72.58,240.73 L72.75,240.75 L72.91,240.76 L73.23,240.80 L73.90,240.87 L74.57,240.93 L75.23,241.00 L75.90,241.05 L76.56,241.10 L77.23,241.13 L77.90,241.16 L78.56,241.18 L79.23,241.19 L79.90,241.19 L80.56,241.19 L81.23,241.18 L81.89,241.17 L82.56,241.16 L83.23,241.14 L83.89,241.12 L84.56,241.10 L85.22,241.08 L85.89,241.06 L86.56,241.04 L87.22,241.02 L87.89,241.00 L88.55,240.98 L89.22,240.97 L89.89,240.95 L90.55,240.94 L91.22,240.93 L91.89,240.92 L92.55,240.92 L93.22,240.91 L93.88,240.91 L94.55,240.90 L95.22,240.90 L95.88,240.90 L96.55,240.90 L97.21,240.90 L97.88,240.90 L98.55,240.90 L99.21,240.90 L99.88,240.90 L100.54,240.90 L101.21,240.90 L101.88,240.90 L102.54,240.90 L103.21,240.90 L103.88,240.90 L104.54,240.91 L105.21,240.91 L105.87,240.91 L106.54,240.91 L107.21,240.91 L107.87,240.91 L108.54,240.91 L109.20,240.91 L109.87,240.91 L110.54,240.91 L111.20,240.91 L111.87,240.91 L112.53,240.91 L113.20,240.91 L113.87,240.91 L114.53,240.91 L115.20,240.91 L115.87,240.91 L116.53,240.91 L117.20,240.91 L117.86,240.91 L118.53,240.91 L119.20,240.91 L119.86,240.91 L120.53,240.91 L121.19,240.91 L121.86,240.91 L122.53,240.91 L123.19,240.91 L123.86,240.91 L124.52,240.91 L125.19,240.91 L125.86,240.91 L126.52,240.91 L127.19,240.91 L127.86,240.91 L128.52,240.91 L129.19,240.91 L129.85,240.91 L130.52,240.91 L131.19,240.91 L131.85,240.91 L132.52,240.91 L133.18,240.91 L133.85,240.91 L134.52,240.91 L135.18,240.91 L135.85,240.91 L136.51,240.91 L137.18,240.91 L137.85,240.91 L138.51,240.91 L139.18,240.91 L139.85,240.91 L140.51,240.91 L141.18,240.91 L141.84,240.91 L142.51,240.91 L143.18,240.91 L143.84,240.91 L144.51,240.91 L145.17,240.91 L145.84,240.91 L534.80,240.91" fill="none" stroke="#ff0000" stroke-width="1.9" stroke-dasharray="6.2 1.8 2.2 1.8" stroke-linejoin="round" clip-path="url(#c2)"/>
<line x1="48.5" y1="361.2" x2="48.5" y2="356.2" stroke="#404040" stroke-width="1" />
<line x1="48.5" y1="222.4" x2="48.5" y2="227.4" stroke="#404040" stroke-width="1" />
<text x="47.9" y="379.7" font-size="12" text-anchor="middle" font-weight="normal" >0</text>
<line x1="129.5" y1="361.2" x2="129.5" y2="356.2" stroke="#404040" stroke-width="1" />
<line x1="129.5" y1="222.4" x2="129.5" y2="227.4" stroke="#404040" stroke-width="1" />
<text x="128.93333333333334" y="379.7" font-size="12" text-anchor="middle" font-weight="normal" >5</text>
<line x1="210.5" y1="361.2" x2="210.5" y2="356.2" stroke="#404040" stroke-width="1" />
<line x1="210.5" y1="222.4" x2="210.5" y2="227.4" stroke="#404040" stroke-width="1" />
<text x="210.66666666666663" y="379.7" font-size="12" text-anchor="middle" font-weight="normal" >10</text>
<line x1="291.5" y1="361.2" x2="291.5" y2="356.2" stroke="#404040" stroke-width="1" />
<line x1="291.5" y1="222.4" x2="291.5" y2="227.4" stroke="#404040" stroke-width="1" />
<text x="291.7" y="379.7" font-size="12" text-anchor="middle" font-weight="normal" >15</text>
<line x1="372.5" y1="361.2" x2="372.5" y2="356.2" stroke="#404040" stroke-width="1" />
<line x1="372.5" y1="222.4" x2="372.5" y2="227.4" stroke="#404040" stroke-width="1" />
<text x="372.7333333333333" y="379.7" font-size="12" text-anchor="middle" font-weight="normal" >20</text>
<line x1="453.5" y1="361.2" x2="453.5" y2="356.2" stroke="#404040" stroke-width="1" />
<line x1="453.5" y1="222.4" x2="453.5" y2="227.4" stroke="#404040" stroke-width="1" />
<text x="453.76666666666665" y="379.7" font-size="12" text-anchor="middle" font-weight="normal" >25</text>
<line x1="534.5" y1="361.2" x2="534.5" y2="356.2" stroke="#404040" stroke-width="1" />
<line x1="534.5" y1="222.4" x2="534.5" y2="227.4" stroke="#404040" stroke-width="1" />
<text x="534.8" y="379.7" font-size="12" text-anchor="middle" font-weight="normal" >30</text>
<line x1="48.6" y1="361.5" x2="53.6" y2="361.5" stroke="#404040" stroke-width="1" />
<line x1="534.8" y1="361.5" x2="529.8" y2="361.5" stroke="#404040" stroke-width="1" />
<text x="42.6" y="366.0" font-size="12" text-anchor="end" font-weight="normal" >0</text>
<line x1="48.6" y1="314.5" x2="53.6" y2="314.5" stroke="#404040" stroke-width="1" />
<line x1="534.8" y1="314.5" x2="529.8" y2="314.5" stroke="#404040" stroke-width="1" />
<text x="42.6" y="319.73333333333335" font-size="12" text-anchor="end" font-weight="normal" >5</text>
<line x1="48.6" y1="268.5" x2="53.6" y2="268.5" stroke="#404040" stroke-width="1" />
<line x1="534.8" y1="268.5" x2="529.8" y2="268.5" stroke="#404040" stroke-width="1" />
<text x="42.6" y="273.4666666666667" font-size="12" text-anchor="end" font-weight="normal" >10</text>
<line x1="48.6" y1="222.5" x2="53.6" y2="222.5" stroke="#404040" stroke-width="1" />
<line x1="534.8" y1="222.5" x2="529.8" y2="222.5" stroke="#404040" stroke-width="1" />
<text x="42.6" y="227.20000000000002" font-size="12" text-anchor="end" font-weight="normal" >15</text>
<text x="291.5" y="395.59999999999997" font-size="12" text-anchor="middle" font-weight="normal" >t(s)</text>
<text x="291.5" y="411.9" font-size="12" text-anchor="middle" font-weight="normal" >(b)</text>
<text transform="translate(16,312.9) rotate(-90)" font-size="12" text-anchor="start">h</text>
<text transform="translate(21.3,304.0) rotate(-90)" font-size="8" text-anchor="start">2</text>
<text transform="translate(16,294.2) rotate(-90)" font-size="12" text-anchor="start">(cm)</text>
<rect x="199.5" y="44.1" width="176.8" height="78.69999999999999" fill="#fff"/>
<line x1="207.5" y1="44.1" x2="207.5" y2="122.8" stroke="#e2e2e2" stroke-width="1" stroke-dasharray="5 5" />
<line x1="249.5" y1="44.1" x2="249.5" y2="122.8" stroke="#e2e2e2" stroke-width="1" stroke-dasharray="5 5" />
<line x1="292.5" y1="44.1" x2="292.5" y2="122.8" stroke="#e2e2e2" stroke-width="1" stroke-dasharray="5 5" />
<line x1="334.5" y1="44.1" x2="334.5" y2="122.8" stroke="#e2e2e2" stroke-width="1" stroke-dasharray="5 5" />
<line x1="199.5" y1="53.5" x2="376.3" y2="53.5" stroke="#e2e2e2" stroke-width="1" stroke-dasharray="5 5" />
<line x1="199.5" y1="109.5" x2="376.3" y2="109.5" stroke="#e2e2e2" stroke-width="1" stroke-dasharray="5 5" />
<rect x="199.5" y="44.1" width="176.8" height="78.69999999999999" fill="none" stroke="#262626" stroke-width="1.35"/>
<clipPath id="c3"><rect x="198.5" y="42.6" width="178.8" height="81.69999999999999"/></clipPath>
<path d="M199.50,53.70 L376.30,53.70" fill="none" stroke="#00ffff" stroke-width="1.9" stroke-linejoin="round" clip-path="url(#c3)"/>
<path d="M199.50,53.70 L376.30,53.70" fill="none" stroke="#a2142f" stroke-width="1.9" stroke-dasharray="6 6" stroke-linejoin="round" clip-path="url(#c3)"/>
<path d="M199.50,53.70 L207.70,53.69 L208.37,57.09 L209.04,60.26 L209.72,63.15 L210.39,65.73 L211.06,67.95 L211.73,69.79 L212.40,71.21 L213.07,72.24 L213.75,72.94 L214.42,73.38 L215.09,73.63 L215.76,73.76 L216.43,73.85 L217.10,73.91 L217.78,73.95 L218.45,73.97 L219.12,73.97 L219.79,73.95 L220.46,73.92 L221.13,73.86 L221.81,73.79 L222.48,73.70 L223.15,73.60 L223.82,73.49 L224.49,73.36 L225.16,73.21 L225.84,73.06 L226.51,72.89 L227.18,72.72 L227.85,72.53 L228.52,72.34 L229.19,72.13 L229.87,71.92 L230.54,71.71 L231.21,71.48 L231.88,71.26 L232.55,71.02 L233.23,70.79 L233.90,70.55 L234.57,70.31 L235.24,70.07 L235.91,69.82 L236.58,69.58 L237.26,69.34 L237.93,69.10 L238.60,68.86 L239.27,68.63 L239.94,68.40 L240.61,68.17 L241.29,67.95 L241.96,67.72 L242.63,67.50 L243.30,67.28 L243.97,67.07 L244.64,66.86 L245.32,66.65 L245.99,66.44 L246.66,66.23 L247.33,66.03 L248.00,65.83 L248.67,65.63 L249.35,65.44 L250.02,65.24 L250.69,65.05 L251.36,64.86 L252.03,64.68 L252.70,64.50 L253.38,64.31 L254.05,64.14 L254.72,63.96 L255.39,63.79 L256.06,63.61 L256.74,63.44 L257.41,63.28 L258.08,63.11 L258.75,62.95 L259.42,62.79 L260.09,62.63 L260.77,62.47 L261.44,62.32 L262.11,62.17 L262.78,62.02 L263.45,61.87 L264.12,61.73 L264.80,61.58 L265.47,61.44 L266.14,61.30 L266.81,61.16 L267.48,61.03 L268.15,60.89 L268.83,60.76 L269.50,60.63 L270.17,60.51 L270.84,60.38 L271.51,60.26 L272.18,60.14 L272.86,60.02 L273.53,59.90 L274.20,59.78 L274.87,59.67 L275.54,59.55 L276.21,59.44 L276.89,59.33 L277.56,59.23 L278.23,59.12 L278.90,59.02 L279.57,58.92 L280.25,58.82 L280.92,58.72 L281.59,58.62 L282.26,58.53 L282.93,58.43 L283.60,58.34 L284.28,58.25 L284.95,58.16 L285.62,58.07 L286.29,57.99 L286.96,57.90 L287.63,57.82 L288.31,57.74 L288.98,57.66 L289.65,57.58 L290.32,57.50 L290.99,57.43 L291.66,57.35 L292.34,57.28 L293.01,57.21 L293.68,57.14 L294.35,57.07 L295.02,57.01 L295.69,56.94 L296.37,56.88 L297.04,56.81 L297.71,56.75 L298.38,56.69 L299.05,56.63 L299.72,56.57 L300.40,56.52 L301.07,56.46 L301.74,56.40 L302.41,56.35 L303.08,56.30 L303.75,56.25 L304.43,56.20 L305.10,56.15 L305.77,56.10 L306.44,56.05 L307.11,56.01 L307.79,55.96 L308.46,55.92 L309.13,55.88 L309.80,55.83 L310.47,55.79 L311.14,55.75 L311.82,55.71 L312.49,55.68 L313.16,55.64 L313.83,55.60 L314.50,55.57 L315.17,55.53 L315.85,55.50 L316.52,55.47 L317.19,55.43 L317.86,55.40 L318.53,55.37 L319.20,55.34 L319.88,55.31 L320.55,55.28 L321.22,55.26 L321.89,55.23 L322.56,55.20 L323.23,55.18 L323.91,55.15 L324.58,55.13 L325.25,55.10 L325.92,55.08 L326.59,55.06 L327.26,55.04 L327.94,55.01 L328.61,54.99 L329.28,54.97 L329.95,54.95 L330.62,54.93 L331.30,54.91 L331.97,54.89 L332.64,54.88 L333.31,54.86 L333.98,54.84 L334.65,54.82 L335.33,54.81 L336.00,54.79 L336.67,54.77 L337.34,54.76 L338.01,54.74 L338.68,54.73 L339.36,54.71 L340.03,54.70 L340.70,54.68 L341.37,54.67 L342.04,54.65 L342.71,54.64 L343.39,54.63 L344.06,54.61 L344.73,54.60 L345.40,54.59 L346.07,54.57 L346.74,54.56 L347.42,54.55 L348.09,54.53 L348.76,54.52 L349.43,54.51 L350.10,54.49 L350.77,54.48 L351.45,54.47 L352.12,54.45 L352.79,54.44 L353.46,54.43 L354.13,54.41 L354.81,54.40 L355.48,54.38 L356.15,54.37 L356.82,54.36 L357.49,54.34 L358.16,54.33 L358.84,54.31 L359.51,54.30 L360.18,54.28 L360.85,54.27 L361.52,54.25 L362.19,54.24 L362.87,54.22 L363.54,54.20 L364.21,54.18 L364.88,54.17 L365.55,54.15 L366.22,54.13 L366.90,54.11 L367.57,54.09 L368.24,54.07 L368.91,54.05 L369.58,54.03 L370.25,54.01 L370.93,53.99 L371.60,53.97 L372.27,53.95 L372.94,53.92 L373.61,53.90 L374.28,53.87 L374.96,53.85 L375.63,53.82 L376.30,53.80" fill="none" stroke="#ff0a9a" stroke-width="1.9" stroke-linejoin="round" clip-path="url(#c3)"/>
<path d="M199.50,53.70 L207.70,53.69 L208.37,56.51 L209.04,59.82 L209.72,63.47 L210.39,67.33 L211.06,71.25 L211.73,75.09 L212.40,78.76 L213.07,82.27 L213.75,85.60 L214.42,88.76 L215.09,91.73 L215.76,94.52 L216.43,97.12 L217.10,99.55 L217.78,101.81 L218.45,103.91 L219.12,105.85 L219.79,107.64 L220.46,109.29 L221.13,110.81 L221.81,112.19 L222.48,113.45 L223.15,114.59 L223.82,115.63 L224.49,116.56 L225.16,117.39 L225.84,118.14 L226.51,118.80 L227.18,119.38 L227.85,119.89 L228.52,120.34 L229.19,120.73 L229.87,121.07 L230.54,121.37 L231.21,121.63 L231.88,121.86 L232.55,122.05 L233.23,122.22 L233.90,122.36 L234.57,122.46 L235.24,122.53 L235.91,122.57 L236.58,122.58 L237.26,122.55 L237.93,122.49 L238.60,122.40 L239.27,122.27 L239.94,122.10 L240.61,121.91 L241.29,121.67 L241.96,121.40 L242.63,121.09 L243.30,120.75 L243.97,120.37 L244.64,119.95 L245.32,119.49 L245.99,119.00 L246.66,118.47 L247.33,117.89 L248.00,117.28 L248.67,116.63 L249.35,115.93 L250.02,115.20 L250.69,114.43 L251.36,113.61 L252.03,112.77 L252.70,111.89 L253.38,110.98 L254.05,110.03 L254.72,109.06 L255.39,108.06 L256.06,107.04 L256.74,105.99 L257.41,104.93 L258.08,103.84 L258.75,102.73 L259.42,101.60 L260.09,100.47 L260.77,99.31 L261.44,98.15 L262.11,96.98 L262.78,95.79 L263.45,94.61 L264.12,93.41 L264.80,92.22 L265.47,91.02 L266.14,89.83 L266.81,88.63 L267.48,87.44 L268.15,86.26 L268.83,85.08 L269.50,83.91 L270.17,82.76 L270.84,81.61 L271.51,80.48 L272.18,79.37 L272.86,78.27 L273.53,77.19 L274.20,76.14 L274.87,75.10 L275.54,74.08 L276.21,73.08 L276.89,72.10 L277.56,71.14 L278.23,70.20 L278.90,69.28 L279.57,68.37 L280.25,67.49 L280.92,66.62 L281.59,65.77 L282.26,64.94 L282.93,64.13 L283.60,63.33 L284.28,62.55 L284.95,61.79 L285.62,61.05 L286.29,60.33 L286.96,59.62 L287.63,58.93 L288.31,58.25 L288.98,57.59 L289.65,56.95 L290.32,56.33 L290.99,55.72 L291.66,55.13 L292.34,54.55 L293.01,53.99 L293.68,53.45 L294.35,52.92 L295.02,52.41 L295.69,51.91 L296.37,51.43 L297.04,50.96 L297.71,50.51 L298.38,50.07 L299.05,49.65 L299.72,49.24 L300.40,48.85 L301.07,48.47 L301.74,48.10 L302.41,47.75 L303.08,47.42 L303.75,47.09 L304.43,46.78 L305.10,46.49 L305.77,46.21 L306.44,45.94 L307.11,45.68 L307.79,45.44 L308.46,45.21 L309.13,44.99 L309.80,44.78 L310.47,44.59 L311.14,44.41 L311.82,44.24 L312.49,44.09 L313.16,43.94 L313.83,43.81 L314.50,43.69 L315.17,43.58 L315.85,43.48 L316.52,43.39 L317.19,43.32 L317.86,43.25 L318.53,43.20 L319.20,43.16 L319.88,43.12 L320.55,43.10 L321.22,43.09 L321.89,43.09 L322.56,43.10 L323.23,43.11 L323.91,43.14 L324.58,43.18 L325.25,43.23 L325.92,43.28 L326.59,43.35 L327.26,43.42 L327.94,43.51 L328.61,43.60 L329.28,43.70 L329.95,43.81 L330.62,43.93 L331.30,44.05 L331.97,44.18 L332.64,44.33 L333.31,44.47 L333.98,44.63 L334.65,44.79 L335.33,44.96 L336.00,45.13 L336.67,45.31 L337.34,45.49 L338.01,45.68 L338.68,45.87 L339.36,46.07 L340.03,46.27 L340.70,46.48 L341.37,46.68 L342.04,46.89 L342.71,47.11 L343.39,47.32 L344.06,47.54 L344.73,47.76 L345.40,47.98 L346.07,48.20 L346.74,48.42 L347.42,48.64 L348.09,48.86 L348.76,49.08 L349.43,49.30 L350.10,49.52 L350.77,49.74 L351.45,49.95 L352.12,50.17 L352.79,50.38 L353.46,50.59 L354.13,50.79 L354.81,50.99 L355.48,51.19 L356.15,51.39 L356.82,51.58 L357.49,51.76 L358.16,51.94 L358.84,52.12 L359.51,52.28 L360.18,52.45 L360.85,52.60 L361.52,52.75 L362.19,52.90 L362.87,53.03 L363.54,53.16 L364.21,53.28 L364.88,53.39 L365.55,53.49 L366.22,53.59 L366.90,53.67 L367.57,53.75 L368.24,53.81 L368.91,53.87 L369.58,53.91 L370.25,53.95 L370.93,53.97 L371.60,53.98 L372.27,53.98 L372.94,53.96 L373.61,53.94 L374.28,53.90 L374.96,53.84 L375.63,53.78 L376.30,53.70" fill="none" stroke="#77ac30" stroke-width="1.9" stroke-linejoin="round" clip-path="url(#c3)"/>
<path d="M199.50,53.70 L207.70,53.70 L208.38,55.57 L209.05,59.03 L209.73,63.23 L210.40,67.31 L211.08,70.60 L211.76,73.08 L212.43,74.93 L213.11,76.29 L213.79,77.34 L214.46,78.11 L215.14,78.63 L215.81,78.90 L216.49,78.93 L217.17,78.72 L217.84,78.28 L218.52,77.62 L219.20,76.75 L219.87,75.67 L220.55,74.39 L221.22,72.94 L221.90,71.35 L222.58,69.65 L223.25,67.86 L223.93,66.02 L224.61,64.15 L225.28,62.28 L225.96,60.44 L226.63,58.66 L227.31,56.98 L227.99,55.41 L228.66,53.99 L229.34,52.73 L230.02,51.64 L230.69,50.69 L231.37,49.88 L232.04,49.21 L232.72,48.66 L233.40,48.22 L234.07,47.89 L234.75,47.65 L235.43,47.51 L236.10,47.44 L236.78,47.44 L237.45,47.51 L238.13,47.62 L238.81,47.78 L239.48,47.98 L240.16,48.20 L240.84,48.45 L241.51,48.71 L242.19,48.99 L242.86,49.28 L243.54,49.59 L244.22,49.91 L244.89,50.24 L245.57,50.57 L246.25,50.92 L246.92,51.26 L247.60,51.61 L248.27,51.95 L248.95,52.30 L249.63,52.63 L250.30,52.97 L250.98,53.29 L251.66,53.61 L252.33,53.91 L253.01,54.19 L253.68,54.47 L254.36,54.72 L255.04,54.95 L255.71,55.16 L256.39,55.35 L257.07,55.51 L257.74,55.65 L258.42,55.75 L259.09,55.82 L259.77,55.86 L260.45,55.86 L261.12,55.83 L261.80,55.76 L262.48,55.65 L263.15,55.52 L263.83,55.36 L264.50,55.18 L265.18,54.98 L265.86,54.78 L266.53,54.57 L267.21,54.36 L267.89,54.16 L268.56,53.96 L269.24,53.78 L269.91,53.61 L270.59,53.47 L271.27,53.36 L271.94,53.27 L272.62,53.23 L273.30,53.22 L273.97,53.27 L274.65,53.36 L275.32,53.51 L276.00,53.72 L280.00,53.70 L376.30,53.70" fill="none" stroke="#0072bd" stroke-width="1.9" stroke-linejoin="round" clip-path="url(#c3)"/>
<path d="M199.50,53.70 L207.70,53.70 L208.38,57.13 L209.06,59.71 L209.75,61.57 L210.43,62.82 L211.11,63.58 L211.79,63.97 L212.48,64.10 L213.16,64.06 L213.84,63.89 L214.52,63.59 L215.20,63.20 L215.89,62.72 L216.57,62.18 L217.25,61.61 L217.93,61.02 L218.62,60.42 L219.30,59.85 L219.98,59.31 L220.66,58.81 L221.35,58.33 L222.03,57.89 L222.71,57.47 L223.39,57.08 L224.07,56.72 L224.76,56.39 L225.44,56.08 L226.12,55.79 L226.80,55.53 L227.49,55.29 L228.17,55.07 L228.85,54.88 L229.53,54.70 L230.21,54.54 L230.90,54.40 L231.58,54.27 L232.26,54.16 L232.94,54.07 L233.63,53.99 L234.31,53.92 L234.99,53.86 L235.67,53.82 L236.35,53.78 L237.04,53.75 L237.72,53.74 L238.40,53.73 L239.08,53.72 L239.77,53.72 L240.45,53.72 L241.13,53.73 L241.81,53.74 L242.50,53.75 L243.18,53.77 L243.86,53.78 L244.54,53.79 L245.22,53.80 L245.91,53.80 L246.59,53.80 L247.27,53.79 L247.95,53.78 L248.64,53.76 L249.32,53.74 L250.00,53.70 L376.30,53.70" fill="none" stroke="#ff0000" stroke-width="1.9" stroke-dasharray="6.2 1.8 2.2 1.8" stroke-linejoin="round" clip-path="url(#c3)"/>
<line x1="207.7" y1="122.8" x2="207.7" y2="119.8" stroke="#222" stroke-width="1" />
<text x="207.7" y="139.8" font-size="11" text-anchor="middle" font-weight="bold" >40</text>
<line x1="249.85" y1="122.8" x2="249.85" y2="119.8" stroke="#222" stroke-width="1" />
<text x="249.85" y="139.8" font-size="11" text-anchor="middle" font-weight="bold" >40.5</text>
<line x1="292.0" y1="122.8" x2="292.0" y2="119.8" stroke="#222" stroke-width="1" />
<text x="292.0" y="139.8" font-size="11" text-anchor="middle" font-weight="bold" >41</text>
<line x1="334.15" y1="122.8" x2="334.15" y2="119.8" stroke="#222" stroke-width="1" />
<text x="334.15" y="139.8" font-size="11" text-anchor="middle" font-weight="bold" >41.5</text>
<line x1="376.3" y1="122.8" x2="376.3" y2="119.8" stroke="#222" stroke-width="1" />
<text x="376.3" y="139.8" font-size="11" text-anchor="middle" font-weight="bold" >42</text>
<line x1="199.5" y1="53.7" x2="202.5" y2="53.7" stroke="#222" stroke-width="1" />
<text x="194.5" y="58.5" font-size="11" text-anchor="end" font-weight="bold" >16</text>
<line x1="199.5" y1="109.2" x2="202.5" y2="109.2" stroke="#222" stroke-width="1" />
<text x="194.5" y="114.0" font-size="11" text-anchor="end" font-weight="bold" >15.95</text>
<rect x="203.3" y="258.5" width="176.2" height="78.30000000000001" fill="#fff"/>
<line x1="211.5" y1="258.5" x2="211.5" y2="336.8" stroke="#e2e2e2" stroke-width="1" stroke-dasharray="5 5" />
<line x1="253.5" y1="258.5" x2="253.5" y2="336.8" stroke="#e2e2e2" stroke-width="1" stroke-dasharray="5 5" />
<line x1="295.5" y1="258.5" x2="295.5" y2="336.8" stroke="#e2e2e2" stroke-width="1" stroke-dasharray="5 5" />
<line x1="337.5" y1="258.5" x2="337.5" y2="336.8" stroke="#e2e2e2" stroke-width="1" stroke-dasharray="5 5" />
<line x1="203.3" y1="263.5" x2="379.5" y2="263.5" stroke="#e2e2e2" stroke-width="1" stroke-dasharray="5 5" />
<rect x="203.3" y="258.5" width="176.2" height="78.30000000000001" fill="none" stroke="#262626" stroke-width="1.35"/>
<clipPath id="c4"><rect x="202.3" y="257.0" width="178.2" height="81.30000000000001"/></clipPath>
<path d="M203.30,263.30 L379.50,263.30" fill="none" stroke="#ff7f27" stroke-width="1.9" stroke-linejoin="round" clip-path="url(#c4)"/>
<path d="M203.30,263.30 L379.50,263.30" fill="none" stroke="#a2142f" stroke-width="1.9" stroke-dasharray="6 6" stroke-linejoin="round" clip-path="url(#c4)"/>
<path d="M203.30,263.30 L211.40,263.29 L212.07,265.54 L212.74,267.89 L213.41,270.30 L214.08,272.75 L214.75,275.21 L215.42,277.65 L216.09,280.04 L216.76,282.36 L217.43,284.61 L218.10,286.77 L218.77,288.85 L219.44,290.85 L220.11,292.76 L220.78,294.57 L221.45,296.30 L222.12,297.93 L222.79,299.46 L223.45,300.88 L224.12,302.21 L224.79,303.42 L225.46,304.52 L226.13,305.52 L226.80,306.41 L227.47,307.20 L228.14,307.90 L228.81,308.51 L229.48,309.03 L230.15,309.46 L230.82,309.82 L231.49,310.10 L232.16,310.32 L232.83,310.47 L233.50,310.56 L234.17,310.59 L234.84,310.57 L235.51,310.50 L236.18,310.39 L236.85,310.24 L237.52,310.06 L238.19,309.84 L238.86,309.60 L239.53,309.34 L240.20,309.06 L240.87,308.76 L241.54,308.45 L242.21,308.13 L242.88,307.80 L243.55,307.45 L244.22,307.09 L244.89,306.72 L245.56,306.34 L246.23,305.95 L246.90,305.56 L247.56,305.15 L248.23,304.73 L248.90,304.31 L249.57,303.88 L250.24,303.45 L250.91,303.01 L251.58,302.56 L252.25,302.11 L252.92,301.65 L253.59,301.20 L254.26,300.74 L254.93,300.27 L255.60,299.81 L256.27,299.34 L256.94,298.88 L257.61,298.41 L258.28,297.94 L258.95,297.48 L259.62,297.02 L260.29,296.56 L260.96,296.10 L261.63,295.64 L262.30,295.19 L262.97,294.73 L263.64,294.28 L264.31,293.83 L264.98,293.39 L265.65,292.94 L266.32,292.50 L266.99,292.06 L267.66,291.62 L268.33,291.19 L269.00,290.76 L269.67,290.33 L270.34,289.90 L271.01,289.47 L271.67,289.05 L272.34,288.63 L273.01,288.22 L273.68,287.80 L274.35,287.39 L275.02,286.98 L275.69,286.58 L276.36,286.18 L277.03,285.78 L277.70,285.38 L278.37,284.99 L279.04,284.60 L279.71,284.21 L280.38,283.83 L281.05,283.45 L281.72,283.07 L282.39,282.70 L283.06,282.33 L283.73,281.96 L284.40,281.60 L285.07,281.24 L285.74,280.88 L286.41,280.53 L287.08,280.18 L287.75,279.83 L288.42,279.49 L289.09,279.16 L289.76,278.82 L290.43,278.49 L291.10,278.17 L291.77,277.85 L292.44,277.53 L293.11,277.22 L293.78,276.91 L294.45,276.60 L295.12,276.30 L295.78,276.00 L296.45,275.71 L297.12,275.42 L297.79,275.14 L298.46,274.86 L299.13,274.59 L299.80,274.32 L300.47,274.05 L301.14,273.79 L301.81,273.54 L302.48,273.29 L303.15,273.04 L303.82,272.80 L304.49,272.56 L305.16,272.33 L305.83,272.11 L306.50,271.88 L307.17,271.67 L307.84,271.46 L308.51,271.25 L309.18,271.05 L309.85,270.85 L310.52,270.66 L311.19,270.47 L311.86,270.29 L312.53,270.11 L313.20,269.94 L313.87,269.77 L314.54,269.60 L315.21,269.44 L315.88,269.28 L316.55,269.13 L317.22,268.98 L317.89,268.84 L318.56,268.70 L319.23,268.56 L319.89,268.43 L320.56,268.30 L321.23,268.17 L321.90,268.05 L322.57,267.93 L323.24,267.82 L323.91,267.71 L324.58,267.60 L325.25,267.49 L325.92,267.39 L326.59,267.29 L327.26,267.20 L327.93,267.10 L328.60,267.01 L329.27,266.93 L329.94,266.84 L330.61,266.76 L331.28,266.68 L331.95,266.61 L332.62,266.53 L333.29,266.46 L333.96,266.39 L334.63,266.33 L335.30,266.26 L335.97,266.20 L336.64,266.14 L337.31,266.08 L337.98,266.02 L338.65,265.97 L339.32,265.92 L339.99,265.87 L340.66,265.82 L341.33,265.77 L342.00,265.73 L342.67,265.68 L343.34,265.64 L344.00,265.60 L344.67,265.56 L345.34,265.52 L346.01,265.48 L346.68,265.44 L347.35,265.41 L348.02,265.37 L348.69,265.34 L349.36,265.31 L350.03,265.27 L350.70,265.24 L351.37,265.21 L352.04,265.18 L352.71,265.15 L353.38,265.12 L354.05,265.09 L354.72,265.07 L355.39,265.04 L356.06,265.01 L356.73,264.98 L357.40,264.95 L358.07,264.92 L358.74,264.90 L359.41,264.87 L360.08,264.84 L360.75,264.81 L361.42,264.78 L362.09,264.75 L362.76,264.72 L363.43,264.69 L364.10,264.66 L364.77,264.62 L365.44,264.59 L366.11,264.56 L366.78,264.52 L367.45,264.49 L368.11,264.45 L368.78,264.41 L369.45,264.37 L370.12,264.33 L370.79,264.29 L371.46,264.25 L372.13,264.20 L372.80,264.16 L373.47,264.11 L374.14,264.06 L374.81,264.01 L375.48,263.96 L376.15,263.90 L376.82,263.84 L377.49,263.79 L378.16,263.73 L378.83,263.66 L379.50,263.60" fill="none" stroke="#ff0a9a" stroke-width="1.9" stroke-linejoin="round" clip-path="url(#c4)"/>
<path d="M203.30,263.30 L211.40,263.29 L212.07,265.05 L212.74,267.48 L213.41,270.42 L214.08,273.71 L214.75,277.17 L215.42,280.65 L216.09,284.01 L216.76,287.20 L217.43,290.24 L218.10,293.12 L218.77,295.86 L219.44,298.45 L220.11,300.90 L220.78,303.22 L221.45,305.41 L222.12,307.47 L222.79,309.41 L223.45,311.24 L224.12,312.95 L224.79,314.56 L225.46,316.06 L226.13,317.47 L226.80,318.78 L227.47,320.01 L228.14,321.14 L228.81,322.20 L229.48,323.19 L230.15,324.10 L230.82,324.94 L231.49,325.70 L232.16,326.40 L232.83,327.03 L233.50,327.60 L234.17,328.10 L234.84,328.54 L235.51,328.92 L236.18,329.23 L236.85,329.49 L237.52,329.69 L238.19,329.83 L238.86,329.92 L239.53,329.95 L240.20,329.94 L240.87,329.87 L241.54,329.75 L242.21,329.59 L242.88,329.38 L243.55,329.13 L244.22,328.83 L244.89,328.49 L245.56,328.11 L246.23,327.69 L246.90,327.23 L247.56,326.73 L248.23,326.21 L248.90,325.64 L249.57,325.05 L250.24,324.42 L250.91,323.77 L251.58,323.09 L252.25,322.38 L252.92,321.65 L253.59,320.89 L254.26,320.11 L254.93,319.31 L255.60,318.49 L256.27,317.66 L256.94,316.80 L257.61,315.93 L258.28,315.05 L258.95,314.16 L259.62,313.25 L260.29,312.34 L260.96,311.42 L261.63,310.49 L262.30,309.55 L262.97,308.61 L263.64,307.67 L264.31,306.73 L264.98,305.79 L265.65,304.85 L266.32,303.92 L266.99,302.99 L267.66,302.06 L268.33,301.15 L269.00,300.24 L269.67,299.34 L270.34,298.45 L271.01,297.57 L271.67,296.70 L272.34,295.84 L273.01,294.99 L273.68,294.14 L274.35,293.31 L275.02,292.49 L275.69,291.67 L276.36,290.86 L277.03,290.07 L277.70,289.28 L278.37,288.50 L279.04,287.73 L279.71,286.97 L280.38,286.22 L281.05,285.48 L281.72,284.75 L282.39,284.03 L283.06,283.32 L283.73,282.61 L284.40,281.92 L285.07,281.23 L285.74,280.56 L286.41,279.89 L287.08,279.24 L287.75,278.59 L288.42,277.95 L289.09,277.32 L289.76,276.71 L290.43,276.10 L291.10,275.50 L291.77,274.91 L292.44,274.33 L293.11,273.76 L293.78,273.20 L294.45,272.64 L295.12,272.10 L295.78,271.57 L296.45,271.05 L297.12,270.53 L297.79,270.03 L298.46,269.53 L299.13,269.05 L299.80,268.57 L300.47,268.11 L301.14,267.65 L301.81,267.21 L302.48,266.77 L303.15,266.35 L303.82,265.93 L304.49,265.52 L305.16,265.12 L305.83,264.74 L306.50,264.36 L307.17,263.99 L307.84,263.63 L308.51,263.28 L309.18,262.94 L309.85,262.61 L310.52,262.29 L311.19,261.98 L311.86,261.68 L312.53,261.39 L313.20,261.11 L313.87,260.84 L314.54,260.58 L315.21,260.33 L315.88,260.09 L316.55,259.86 L317.22,259.64 L317.89,259.43 L318.56,259.23 L319.23,259.03 L319.89,258.85 L320.56,258.68 L321.23,258.52 L321.90,258.37 L322.57,258.23 L323.24,258.10 L323.91,257.97 L324.58,257.86 L325.25,257.76 L325.92,257.67 L326.59,257.59 L327.26,257.51 L327.93,257.45 L328.60,257.40 L329.27,257.35 L329.94,257.31 L330.61,257.29 L331.28,257.27 L331.95,257.25 L332.62,257.25 L333.29,257.25 L333.96,257.26 L334.63,257.28 L335.30,257.30 L335.97,257.33 L336.64,257.37 L337.31,257.41 L337.98,257.46 L338.65,257.52 L339.32,257.58 L339.99,257.64 L340.66,257.72 L341.33,257.79 L342.00,257.87 L342.67,257.96 L343.34,258.05 L344.00,258.14 L344.67,258.24 L345.34,258.34 L346.01,258.44 L346.68,258.55 L347.35,258.66 L348.02,258.77 L348.69,258.88 L349.36,259.00 L350.03,259.12 L350.70,259.24 L351.37,259.36 L352.04,259.49 L352.71,259.61 L353.38,259.74 L354.05,259.86 L354.72,259.99 L355.39,260.12 L356.06,260.24 L356.73,260.37 L357.40,260.50 L358.07,260.62 L358.74,260.75 L359.41,260.87 L360.08,260.99 L360.75,261.12 L361.42,261.24 L362.09,261.35 L362.76,261.47 L363.43,261.58 L364.10,261.69 L364.77,261.80 L365.44,261.90 L366.11,262.00 L366.78,262.10 L367.45,262.20 L368.11,262.29 L368.78,262.37 L369.45,262.45 L370.12,262.53 L370.79,262.60 L371.46,262.67 L372.13,262.73 L372.80,262.79 L373.47,262.84 L374.14,262.88 L374.81,262.92 L375.48,262.95 L376.15,262.98 L376.82,263.00 L377.49,263.01 L378.16,263.01 L378.83,263.01 L379.50,263.00" fill="none" stroke="#77ac30" stroke-width="1.9" stroke-linejoin="round" clip-path="url(#c4)"/>
<path d="M203.30,263.30 L211.40,263.29 L212.08,265.76 L212.76,268.15 L213.44,270.45 L214.12,272.63 L214.80,274.67 L215.48,276.54 L216.15,278.21 L216.83,279.67 L217.51,280.88 L218.19,281.83 L218.87,282.49 L219.55,282.83 L220.23,282.87 L220.91,282.64 L221.59,282.17 L222.27,281.48 L222.95,280.61 L223.63,279.60 L224.30,278.47 L224.98,277.24 L225.66,275.97 L226.34,274.66 L227.02,273.35 L227.70,272.04 L228.38,270.74 L229.06,269.46 L229.74,268.21 L230.42,267.01 L231.10,265.85 L231.78,264.75 L232.46,263.71 L233.13,262.75 L233.81,261.88 L234.49,261.11 L235.17,260.43 L235.85,259.87 L236.53,259.44 L237.21,259.13 L237.89,258.94 L238.57,258.86 L239.25,258.87 L239.93,258.96 L240.61,259.13 L241.29,259.35 L241.96,259.62 L242.64,259.93 L243.32,260.26 L244.00,260.60 L244.68,260.93 L245.36,261.26 L246.04,261.57 L246.72,261.86 L247.40,262.13 L248.08,262.38 L248.76,262.62 L249.44,262.84 L250.11,263.05 L250.79,263.24 L251.47,263.42 L252.15,263.58 L252.83,263.73 L253.51,263.86 L254.19,263.98 L254.87,264.09 L255.55,264.19 L256.23,264.27 L256.91,264.35 L257.59,264.41 L258.27,264.46 L258.94,264.50 L259.62,264.53 L260.30,264.56 L260.98,264.57 L261.66,264.58 L262.34,264.58 L263.02,264.57 L263.70,264.55 L264.38,264.53 L265.06,264.51 L265.74,264.47 L266.42,264.43 L267.10,264.39 L267.77,264.34 L268.45,264.29 L269.13,264.24 L269.81,264.18 L270.49,264.12 L271.17,264.06 L271.85,264.00 L272.53,263.94 L273.21,263.87 L273.89,263.81 L274.57,263.74 L275.25,263.68 L275.92,263.62 L276.60,263.56 L277.28,263.50 L277.96,263.44 L278.64,263.39 L279.32,263.34 L280.00,263.30 L379.50,263.30" fill="none" stroke="#0072bd" stroke-width="1.9" stroke-linejoin="round" clip-path="url(#c4)"/>
<path d="M203.30,263.30 L211.40,263.29 L212.09,266.37 L212.77,269.01 L213.46,271.24 L214.14,273.09 L214.83,274.55 L215.51,275.67 L216.20,276.45 L216.89,276.91 L217.57,277.09 L218.26,277.03 L218.94,276.77 L219.63,276.35 L220.31,275.81 L221.00,275.18 L221.69,274.51 L222.37,273.83 L223.06,273.17 L223.74,272.51 L224.43,271.88 L225.11,271.25 L225.80,270.65 L226.49,270.06 L227.17,269.49 L227.86,268.94 L228.54,268.40 L229.23,267.89 L229.91,267.40 L230.60,266.92 L231.29,266.48 L231.97,266.05 L232.66,265.65 L233.34,265.27 L234.03,264.91 L234.71,264.59 L235.40,264.29 L236.09,264.01 L236.77,263.77 L237.46,263.55 L238.14,263.37 L238.83,263.21 L239.51,263.09 L240.20,262.99 L240.89,262.93 L241.57,262.91 L242.26,262.91 L242.94,262.96 L243.63,263.03 L244.31,263.15 L245.00,263.30 L379.50,263.30" fill="none" stroke="#ff0000" stroke-width="1.9" stroke-dasharray="6.2 1.8 2.2 1.8" stroke-linejoin="round" clip-path="url(#c4)"/>
<line x1="211.4" y1="336.8" x2="211.4" y2="333.8" stroke="#222" stroke-width="1" />
<text x="211.4" y="353.8" font-size="11" text-anchor="middle" font-weight="bold" >60</text>
<line x1="253.425" y1="336.8" x2="253.425" y2="333.8" stroke="#222" stroke-width="1" />
<text x="253.425" y="353.8" font-size="11" text-anchor="middle" font-weight="bold" >60.5</text>
<line x1="295.45" y1="336.8" x2="295.45" y2="333.8" stroke="#222" stroke-width="1" />
<text x="295.45" y="353.8" font-size="11" text-anchor="middle" font-weight="bold" >61</text>
<line x1="337.475" y1="336.8" x2="337.475" y2="333.8" stroke="#222" stroke-width="1" />
<text x="337.475" y="353.8" font-size="11" text-anchor="middle" font-weight="bold" >61.5</text>
<line x1="379.5" y1="336.8" x2="379.5" y2="333.8" stroke="#222" stroke-width="1" />
<text x="379.5" y="353.8" font-size="11" text-anchor="middle" font-weight="bold" >62</text>
<line x1="203.3" y1="263.3" x2="206.3" y2="263.3" stroke="#222" stroke-width="1" />
<text x="198.3" y="268.8" font-size="11" text-anchor="end" font-weight="bold" >13</text>
<line x1="203.3" y1="336.8" x2="206.3" y2="336.8" stroke="#222" stroke-width="1" />
<text x="198.3" y="342.3" font-size="11" text-anchor="end" font-weight="bold" >12.95</text>
<rect x="422.5" y="54.2" width="110.0" height="91.3" fill="#fff" stroke="#262626" stroke-width="1"/>
<path d="M426.00,60.80 L463.00,60.80" fill="none" stroke="#00ffff" stroke-width="1.9" stroke-linejoin="round"/>
<text x="466" y="64.80000000000001" font-size="8.7" text-anchor="start" font-weight="normal" >Reference</text>
<path d="M426.00,75.20 L463.00,75.20" fill="none" stroke="#ff0a9a" stroke-width="1.9" stroke-linejoin="round"/>
<text x="466" y="76.3" font-size="8.7" text-anchor="start" font-weight="normal" >h<tspan font-size="6" dy="3.6">1</tspan><tspan dy="-3.6" dx="1.6">-LADRC</tspan></text>
<path d="M426.00,90.42 L463.00,90.42" fill="none" stroke="#77ac30" stroke-width="1.9" stroke-linejoin="round"/>
<text x="466" y="91.52" font-size="8.7" text-anchor="start" font-weight="normal" >h<tspan font-size="6" dy="3.6">1</tspan><tspan dy="-3.6" dx="1.6">-ADRC</tspan></text>
<path d="M426.00,105.64 L463.00,105.64" fill="none" stroke="#0072bd" stroke-width="1.9" stroke-linejoin="round"/>
<text x="466" y="106.74" font-size="8.7" text-anchor="start" font-weight="normal" >h<tspan font-size="6" dy="3.6">1</tspan><tspan dy="-3.6" dx="1.6">-IADRC</tspan></text>
<path d="M426.00,120.86 L463.00,120.86" fill="none" stroke="#a2142f" stroke-width="1.9" stroke-dasharray="6 6" stroke-linejoin="round"/>
<text x="466" y="121.96000000000001" font-size="8.7" text-anchor="start" font-weight="normal" >h<tspan font-size="6" dy="3.6">1</tspan><tspan dy="-3.6" dx="1.6">-NLPD-ADRC</tspan></text>
<path d="M426.00,136.08 L463.00,136.08" fill="none" stroke="#ff0000" stroke-width="1.9" stroke-dasharray="6.2 1.8 2.2 1.8" stroke-linejoin="round"/>
<text x="466" y="137.18" font-size="8.7" text-anchor="start" font-weight="normal" >h<tspan font-size="6" dy="3.6">1</tspan><tspan dy="-3.6" dx="1.6">-STC-ADRC</tspan></text>
<rect x="422.5" y="268.2" width="110.0" height="89.80000000000001" fill="#fff" stroke="#262626" stroke-width="1"/>
<path d="M426.00,274.80 L463.00,274.80" fill="none" stroke="#ff7f27" stroke-width="1.9" stroke-linejoin="round"/>
<text x="466" y="278.8" font-size="8.7" text-anchor="start" font-weight="normal" >Reference</text>
<path d="M426.00,289.20 L463.00,289.20" fill="none" stroke="#ff0a9a" stroke-width="1.9" stroke-linejoin="round"/>
<text x="466" y="290.3" font-size="8.7" text-anchor="start" font-weight="normal" >h<tspan font-size="6" dy="3.6">2</tspan><tspan dy="-3.6" dx="1.6">-LADRC</tspan></text>
<path d="M426.00,304.40 L463.00,304.40" fill="none" stroke="#77ac30" stroke-width="1.9" stroke-linejoin="round"/>
<text x="466" y="305.5" font-size="8.7" text-anchor="start" font-weight="normal" >h<tspan font-size="6" dy="3.6">2</tspan><tspan dy="-3.6" dx="1.6">-ADRC</tspan></text>
<path d="M426.00,319.60 L463.00,319.60" fill="none" stroke="#0072bd" stroke-width="1.9" stroke-linejoin="round"/>
<text x="466" y="320.7" font-size="8.7" text-anchor="start" font-weight="normal" >h<tspan font-size="6" dy="3.6">2</tspan><tspan dy="-3.6" dx="1.6">-IADRC</tspan></text>
<path d="M426.00,334.80 L463.00,334.80" fill="none" stroke="#a2142f" stroke-width="1.9" stroke-dasharray="6 6" stroke-linejoin="round"/>
<text x="466" y="335.9" font-size="8.7" text-anchor="start" font-weight="normal" >h<tspan font-size="6" dy="3.6">2</tspan><tspan dy="-3.6" dx="1.6">-NLPD-ADRC</tspan></text>
<path d="M426.00,350.00 L463.00,350.00" fill="none" stroke="#ff0000" stroke-width="1.9" stroke-dasharray="6.2 1.8 2.2 1.8" stroke-linejoin="round"/>
<text x="466" y="351.1" font-size="8.7" text-anchor="start" font-weight="normal" >h<tspan font-size="6" dy="3.6">2</tspan><tspan dy="-3.6" dx="1.6">-STC-ADRC</tspan></text>
<rect x="524.5" y="10.7" width="11.2" height="9.3" fill="none" stroke="#000" stroke-width="1.8"/>
<rect x="523.5" y="233.7" width="11.7" height="9.1" fill="none" stroke="#000" stroke-width="1.8"/>
<line x1="524.5" y1="15.6" x2="389.80794629300334" y2="45.65759514303504" stroke="#000" stroke-width="2" stroke-dasharray="6.5 5.3" />
<path d="M382.00,47.40 L392.73,40.39 L389.81,45.66 L394.69,49.18 Z" fill="#000"/>
<line x1="523.5" y1="237.3" x2="389.0178073692841" y2="266.50238757757637" stroke="#000" stroke-width="2" stroke-dasharray="6.5 5.3" />
<path d="M381.20,268.20 L391.97,261.26 L389.02,266.50 L393.88,270.05 Z" fill="#000"/>
</svg>
</body></html>
